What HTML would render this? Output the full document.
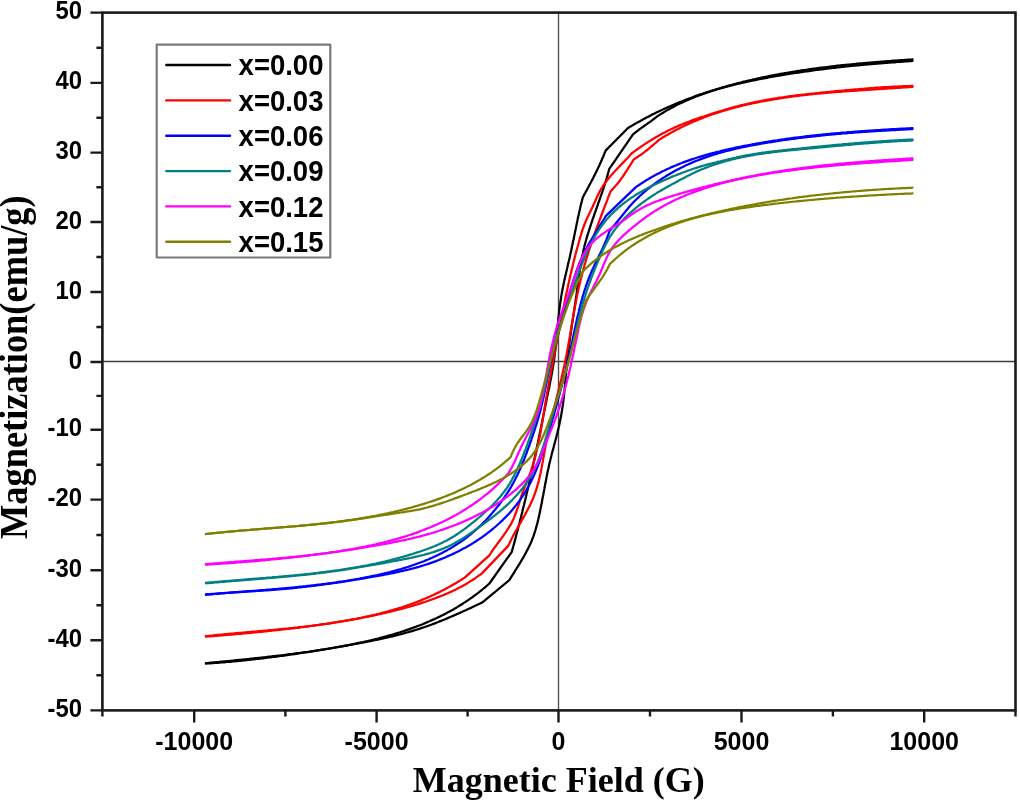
<!DOCTYPE html>
<html><head><meta charset="utf-8"><title>Magnetization vs Magnetic Field</title>
<style>
html,body{margin:0;padding:0;background:#fff;}
body{width:1020px;height:803px;overflow:hidden;}
svg{display:block;}
.t{font-family:"Liberation Sans",Arial,sans-serif;font-weight:bold;font-size:25px;fill:#000;}
.lg{font-family:"Liberation Sans",Arial,sans-serif;font-weight:bold;font-size:27.5px;fill:#000;}
.ti{font-family:"Liberation Serif","Times New Roman",serif;font-weight:bold;font-size:36px;fill:#000;}
.ti2{font-family:"Liberation Serif","Times New Roman",serif;font-weight:bold;font-size:36.4px;fill:#000;}
</style></head><body>
<svg width="1020" height="803" viewBox="0 0 1020 803">
<rect width="1020" height="803" fill="#fff"/>
<line x1="102.4" y1="361.5" x2="1015.5" y2="361.5" stroke="#3c3c3c" stroke-width="1.6"/>
<line x1="558.5" y1="12.6" x2="558.5" y2="710.4" stroke="#505050" stroke-width="1.4"/>
<polyline points="912.5,59.4 911.0,59.5 909.5,59.6 908.0,59.7 906.5,59.8 905.1,59.9 903.6,60.0 902.1,60.1 900.6,60.2 899.1,60.3 897.6,60.4 896.1,60.5 894.6,60.6 893.1,60.7 891.6,60.8 890.1,61.0 888.6,61.1 887.1,61.2 885.6,61.3 884.1,61.4 882.6,61.5 881.1,61.6 879.6,61.8 878.1,61.9 876.6,62.0 875.1,62.1 873.6,62.3 872.1,62.4 870.6,62.5 869.1,62.6 867.6,62.8 866.1,62.9 864.6,63.0 863.1,63.2 861.6,63.3 860.1,63.4 858.6,63.6 857.1,63.7 855.6,63.9 854.1,64.0 852.6,64.2 851.0,64.3 849.5,64.5 848.0,64.6 846.5,64.8 845.0,64.9 843.5,65.1 842.0,65.2 840.5,65.4 839.0,65.6 837.5,65.7 836.0,65.9 834.5,66.1 833.0,66.3 831.5,66.4 830.0,66.6 828.5,66.8 827.0,67.0 825.5,67.2 824.0,67.3 822.5,67.5 821.0,67.7 819.5,67.9 818.0,68.1 816.5,68.3 815.0,68.5 813.4,68.7 811.9,68.9 810.4,69.1 808.9,69.3 807.4,69.6 806.0,69.8 804.5,70.0 803.0,70.2 801.5,70.4 800.0,70.7 798.5,70.9 797.0,71.1 795.5,71.4 794.0,71.6 792.5,71.9 791.0,72.1 789.5,72.4 788.0,72.6 786.5,72.9 785.0,73.1 783.5,73.4 782.0,73.6 780.6,73.9 779.1,74.2 777.6,74.5 776.1,74.7 774.6,75.0 773.1,75.3 771.6,75.6 770.2,75.9 768.7,76.2 767.2,76.5 765.7,76.8 764.2,77.1 762.8,77.4 761.3,77.7 759.8,78.0 758.3,78.3 756.9,78.7 755.4,79.0 753.9,79.3 752.4,79.7 751.0,80.0 749.5,80.3 748.0,80.7 746.6,81.0 745.1,81.4 743.6,81.7 742.2,82.1 740.7,82.5 739.3,82.8 737.8,83.2 736.3,83.6 734.9,84.0 733.4,84.4 732.0,84.8 730.5,85.1 729.1,85.5 727.6,85.9 726.2,86.4 724.7,86.8 723.3,87.2 721.8,87.6 720.4,88.0 718.9,88.5 717.5,88.9 716.1,89.3 714.6,89.8 713.2,90.2 711.8,90.7 710.3,91.1 708.9,91.6 707.5,92.0 706.0,92.5 704.6,93.0 703.2,93.5 701.8,94.0 700.4,94.4 698.9,94.9 697.5,95.4 696.1,95.9 694.7,96.4 693.3,97.0 691.9,97.5 690.5,98.0 689.1,98.5 687.7,99.1 686.3,99.6 684.9,100.1 683.5,100.7 682.1,101.3 680.7,101.8 679.3,102.4 677.9,102.9 676.5,103.5 675.1,104.1 673.7,104.7 672.3,105.3 671.0,105.9 669.6,106.5 668.2,107.1 666.8,107.7 665.5,108.3 664.1,108.9 662.7,109.6 661.4,110.2 660.0,110.8 658.6,111.5 657.3,112.1 655.9,112.8 654.6,113.5 653.2,114.1 651.9,114.8 650.5,115.5 649.2,116.2 647.8,116.9 646.5,117.6 645.2,118.3 643.8,119.0 642.5,119.7 641.2,120.4 639.8,121.2 638.5,121.9 637.2,122.6 635.9,123.4 634.5,124.1 633.2,124.9 631.9,125.7 630.6,126.4 629.3,127.2 628.0,128.0 605.6,150.6 605.0,152.1 604.4,153.5 603.9,155.0 603.3,156.4 602.6,157.9 602.0,159.3 601.4,160.8 600.8,162.2 600.1,163.6 599.5,165.0 598.8,166.5 598.1,167.9 597.5,169.3 596.8,170.7 596.1,172.1 595.4,173.5 594.7,174.9 594.0,176.3 593.3,177.7 592.6,179.1 591.8,180.5 591.1,181.9 590.4,183.3 589.6,184.7 588.9,186.1 588.2,187.5 587.4,188.8 586.7,190.2 585.9,191.6 585.2,193.0 584.4,194.4 583.7,195.7 582.9,197.1 582.5,198.6 582.1,200.0 581.8,201.5 581.4,202.9 581.0,204.4 580.7,205.9 580.3,207.3 580.0,208.8 579.7,210.3 579.3,211.7 579.0,213.2 578.7,214.7 578.3,216.2 578.0,217.6 577.7,219.1 577.4,220.6 577.1,222.1 576.8,223.5 576.5,225.0 576.2,226.5 575.9,228.0 575.6,229.4 575.3,230.9 575.0,232.4 574.7,233.9 574.4,235.4 574.1,236.8 573.8,238.3 573.5,239.8 573.1,241.3 572.8,242.8 572.5,244.2 572.2,245.7 571.9,247.2 571.6,248.7 571.3,250.1 571.0,251.6 570.6,253.1 570.3,254.6 570.0,256.0 569.7,257.5 569.3,259.0 569.0,260.5 568.6,261.9 568.3,263.4 567.9,264.9 567.6,266.4 567.3,267.8 566.9,269.3 566.6,270.8 566.2,272.2 565.9,273.7 565.5,275.2 565.2,276.7 564.9,278.1 564.5,279.6 564.2,281.1 563.9,282.6 563.6,284.0 563.3,285.5 563.0,287.0 562.7,288.5 562.4,289.9 562.1,291.4 561.8,292.9 561.6,294.4 561.3,295.9 561.1,297.4 560.9,298.9 560.6,300.3 560.4,301.8 560.2,303.3 560.0,304.8 559.8,306.3 559.6,307.8 559.4,309.3 559.2,310.8 559.1,312.3 558.9,313.8 558.7,315.3 558.6,316.8 558.4,318.3 558.3,319.8 558.1,321.3 558.0,322.8 557.8,324.3 557.7,325.8 557.5,327.3 557.4,328.8 557.2,330.3 557.1,331.8 557.0,333.3 556.8,334.8 556.7,336.3 556.5,337.8 556.4,339.3 556.2,340.8 556.1,342.3 555.9,343.8 555.8,345.3 555.6,346.8 555.5,348.3 555.3,349.8 555.1,351.3 554.9,352.8 554.8,354.3 554.6,355.8 554.4,357.3 554.2,358.8 554.0,360.3 553.8,361.8 553.5,363.3 553.3,364.8 553.1,366.3 552.8,367.7 552.6,369.2 552.3,370.7 552.1,372.2 551.8,373.7 551.5,375.2 551.3,376.6 551.0,378.1 550.7,379.6 550.4,381.1 550.1,382.6 549.8,384.0 549.5,385.5 549.3,387.0 549.0,388.5 548.6,389.9 548.3,391.4 548.0,392.9 547.7,394.4 547.4,395.9 547.1,397.3 546.8,398.8 546.5,400.3 546.2,401.8 545.9,403.2 545.6,404.7 545.3,406.2 545.0,407.7 544.7,409.2 544.4,410.6 544.1,412.1 543.8,413.6 543.5,415.1 543.2,416.5 542.9,418.0 542.6,419.5 542.3,421.0 542.0,422.5 541.7,423.9 541.4,425.4 541.1,426.9 540.8,428.4 540.5,429.9 540.2,431.3 539.9,432.8 539.6,434.3 539.3,435.8 539.0,437.3 538.7,438.7 538.4,440.2 538.1,441.7 537.8,443.2 537.4,444.7 537.1,446.1 536.8,447.6 536.5,449.1 536.2,450.6 535.9,452.1 535.6,453.5 535.3,455.0 535.0,456.5 534.7,458.0 534.4,459.4 534.0,460.9 533.7,462.4 533.4,463.9 533.1,465.3 532.8,466.8 532.4,468.3 532.1,469.8 531.8,471.2 531.5,472.7 531.1,474.2 530.8,475.7 530.5,477.1 530.2,478.6 529.8,480.1 529.5,481.5 529.1,483.0 528.8,484.5 528.5,486.0 528.1,487.4 527.8,488.9 527.5,490.4 527.1,491.8 526.8,493.3 526.4,494.8 526.1,496.2 525.7,497.7 525.4,499.2 525.0,500.6 524.7,502.1 524.3,503.6 524.0,505.0 523.6,506.5 523.2,508.0 522.9,509.4 522.5,510.9 522.2,512.4 521.8,513.8 521.4,515.3 521.1,516.8 520.7,518.2 520.3,519.7 519.9,521.2 519.6,522.6 519.2,524.1 518.8,525.5 518.4,527.0 518.1,528.5 517.7,529.9 517.3,531.4 516.9,532.8 516.5,534.3 516.1,535.8 515.8,537.2 515.4,538.7 515.0,540.1 514.6,541.6 514.2,543.1 513.8,544.5 513.4,546.0 513.0,547.4 512.6,548.9 512.2,550.3 511.8,551.8 489.4,583.5 488.2,584.5 487.1,585.5 485.9,586.6 484.7,587.6 483.6,588.5 482.4,589.5 481.2,590.5 480.0,591.4 478.8,592.4 477.6,593.3 476.4,594.2 475.1,595.1 473.9,596.0 472.7,596.9 471.4,597.8 470.2,598.7 469.0,599.6 467.7,600.4 466.5,601.3 465.2,602.1 463.9,602.9 462.7,603.7 461.4,604.5 460.1,605.3 458.8,606.1 457.6,606.9 456.3,607.7 455.0,608.4 453.7,609.2 452.4,609.9 451.1,610.7 449.7,611.4 448.4,612.1 447.1,612.8 445.8,613.5 444.4,614.2 443.1,614.9 441.8,615.5 440.4,616.2 439.1,616.9 437.7,617.5 436.4,618.2 435.0,618.8 433.7,619.4 432.3,620.0 430.9,620.6 429.6,621.3 428.2,621.8 426.8,622.4 425.4,623.0 424.0,623.6 422.7,624.2 421.3,624.7 419.9,625.3 418.5,625.8 417.1,626.3 415.7,626.9 414.3,627.4 412.9,627.9 411.4,628.4 410.0,628.9 408.6,629.4 407.2,629.9 405.8,630.4 404.3,630.9 402.9,631.3 401.5,631.8 400.0,632.3 398.6,632.7 397.2,633.2 395.7,633.6 394.3,634.0 392.8,634.5 391.4,634.9 389.9,635.3 388.5,635.7 387.0,636.1 385.6,636.5 384.1,636.9 382.6,637.3 381.2,637.7 379.7,638.1 378.2,638.5 376.8,638.8 375.3,639.2 373.8,639.6 372.4,639.9 370.9,640.3 369.4,640.6 367.9,641.0 366.4,641.3 365.0,641.6 363.5,642.0 362.0,642.3 360.5,642.6 359.0,642.9 357.5,643.2 356.0,643.5 354.6,643.9 353.1,644.2 351.6,644.5 350.1,644.7 348.6,645.0 347.1,645.3 345.6,645.6 344.1,645.9 342.6,646.2 341.1,646.4 339.6,646.7 338.1,647.0 336.6,647.2 335.1,647.5 333.6,647.8 332.1,648.0 330.6,648.3 329.1,648.5 327.6,648.8 326.1,649.0 324.6,649.3 323.1,649.5 321.6,649.7 320.1,650.0 318.6,650.2 317.1,650.4 315.6,650.7 314.1,650.9 312.6,651.1 311.1,651.3 309.6,651.6 308.1,651.8 306.6,652.0 305.1,652.2 303.6,652.4 302.1,652.6 300.5,652.8 299.0,653.0 297.5,653.2 296.0,653.4 294.5,653.6 293.0,653.8 291.5,654.0 290.0,654.2 288.5,654.4 287.0,654.6 285.5,654.8 284.0,655.0 282.5,655.2 281.0,655.3 279.5,655.5 278.0,655.7 276.5,655.9 275.0,656.1 273.5,656.2 272.0,656.4 270.4,656.6 268.9,656.7 267.4,656.9 265.9,657.1 264.4,657.3 262.9,657.4 261.4,657.6 259.9,657.8 258.4,657.9 256.9,658.1 255.4,658.2 253.9,658.4 252.4,658.6 250.9,658.7 249.4,658.9 247.9,659.0 246.4,659.2 244.9,659.3 243.4,659.5 241.9,659.6 240.4,659.8 238.9,659.9 237.4,660.1 235.9,660.2 234.4,660.4 232.9,660.5 231.4,660.7 229.9,660.8 228.4,661.0 226.9,661.1 225.4,661.3 223.9,661.4 222.4,661.6 220.9,661.7 219.4,661.9 217.9,662.0 216.4,662.1 214.9,662.3 213.4,662.4 211.9,662.6 210.4,662.7 208.9,662.9 207.4,663.0 205.9,663.2" fill="none" stroke="#000000" stroke-width="2.25" stroke-linejoin="round" stroke-linecap="round"/>
<polyline points="205.9,663.6 207.4,663.5 208.9,663.4 210.4,663.3 211.9,663.2 213.4,663.1 214.9,663.0 216.5,662.9 218.0,662.8 219.5,662.7 221.0,662.5 222.5,662.4 224.0,662.3 225.5,662.2 227.0,662.0 228.5,661.9 230.0,661.8 231.5,661.6 233.0,661.5 234.5,661.3 236.0,661.2 237.5,661.1 239.0,660.9 240.5,660.8 242.0,660.6 243.5,660.4 245.0,660.3 246.5,660.1 248.0,660.0 249.5,659.8 251.0,659.7 252.5,659.5 254.0,659.3 255.5,659.1 257.0,659.0 258.5,658.8 260.0,658.6 261.5,658.4 263.0,658.3 264.5,658.1 266.0,657.9 267.5,657.7 269.0,657.5 270.5,657.3 272.0,657.2 273.5,657.0 274.9,656.8 276.4,656.6 277.9,656.4 279.4,656.2 280.9,656.0 282.4,655.8 283.9,655.6 285.4,655.4 286.9,655.1 288.4,654.9 289.9,654.7 291.4,654.5 292.9,654.3 294.4,654.1 295.8,653.9 297.3,653.6 298.8,653.4 300.3,653.2 301.8,653.0 303.3,652.7 304.8,652.5 306.3,652.3 307.8,652.1 309.3,651.8 310.7,651.6 312.2,651.4 313.7,651.1 315.2,650.9 316.7,650.6 318.2,650.4 319.7,650.2 321.2,649.9 322.7,649.7 324.1,649.4 325.6,649.2 327.1,648.9 328.6,648.7 330.1,648.4 331.6,648.2 333.1,647.9 334.6,647.7 336.0,647.4 337.5,647.1 339.0,646.9 340.5,646.6 342.0,646.4 343.5,646.1 345.0,645.8 346.5,645.6 347.9,645.3 349.4,645.0 350.9,644.8 352.4,644.5 353.9,644.2 355.4,643.9 356.9,643.7 358.3,643.4 359.8,643.1 361.3,642.8 362.8,642.5 364.3,642.3 365.8,642.0 367.3,641.7 368.7,641.4 370.2,641.1 371.7,640.8 373.2,640.5 374.7,640.2 376.1,639.9 377.6,639.6 379.1,639.3 380.6,639.0 382.1,638.6 383.5,638.3 385.0,638.0 386.5,637.7 388.0,637.3 389.4,637.0 390.9,636.6 392.4,636.3 393.8,635.9 395.3,635.6 396.8,635.2 398.2,634.9 399.7,634.5 401.1,634.1 402.6,633.7 404.0,633.3 405.5,632.9 406.9,632.5 408.4,632.1 409.8,631.7 411.3,631.3 412.7,630.9 414.2,630.4 415.6,630.0 417.0,629.5 418.5,629.1 419.9,628.6 421.3,628.1 422.7,627.7 424.2,627.2 425.6,626.7 427.0,626.2 428.4,625.7 429.8,625.2 431.2,624.7 432.7,624.1 434.1,623.6 435.5,623.1 436.9,622.5 438.3,622.0 439.7,621.4 441.1,620.9 442.5,620.3 443.9,619.7 445.2,619.2 446.6,618.6 448.0,618.0 449.4,617.4 450.8,616.8 452.2,616.2 453.6,615.6 455.0,615.0 456.3,614.4 457.7,613.8 459.1,613.2 460.5,612.6 461.8,612.0 463.2,611.3 464.6,610.7 466.0,610.1 467.3,609.5 468.7,608.8 470.1,608.2 471.5,607.6 472.8,606.9 474.2,606.3 475.6,605.6 476.9,605.0 478.3,604.3 479.7,603.7 481.0,603.0 482.4,602.4 509.4,580.0 510.2,578.7 511.0,577.4 511.8,576.1 512.6,574.9 513.4,573.6 514.2,572.3 515.0,571.0 515.8,569.7 516.6,568.5 517.4,567.2 518.2,565.9 519.0,564.6 519.8,563.3 520.6,562.0 521.4,560.7 522.1,559.4 522.9,558.1 523.7,556.8 524.4,555.5 525.1,554.2 525.8,552.9 526.5,551.5 527.2,550.2 527.9,548.9 528.6,547.5 529.2,546.2 529.9,544.8 530.5,543.5 531.1,542.1 531.7,540.7 532.2,539.3 532.7,538.0 533.3,536.6 533.8,535.2 534.3,533.7 534.7,532.3 535.2,530.9 535.6,529.5 536.0,528.0 536.4,526.6 536.8,525.2 537.2,523.7 537.6,522.2 537.9,520.8 538.3,519.3 538.6,517.9 539.0,516.4 539.3,514.9 539.6,513.5 539.9,512.0 540.2,510.5 540.5,509.0 540.8,507.5 541.1,506.1 541.4,504.6 541.7,503.1 542.0,501.6 542.2,500.1 542.5,498.6 542.8,497.2 543.1,495.7 543.4,494.2 543.6,492.7 543.9,491.2 544.2,489.7 544.5,488.2 544.7,486.8 545.0,485.3 545.3,483.8 545.6,482.3 545.9,480.8 546.2,479.3 546.4,477.8 546.7,476.4 547.0,474.9 547.3,473.4 547.6,471.9 547.9,470.4 548.3,469.0 548.6,467.5 548.9,466.0 549.2,464.5 549.6,463.1 549.9,461.6 550.3,460.1 550.6,458.7 551.0,457.2 551.4,455.8 551.7,454.3 552.1,452.8 552.5,451.4 552.9,449.9 553.3,448.5 553.7,447.0 554.0,445.6 554.4,444.1 554.8,442.7 555.2,441.2 555.6,439.8 556.0,438.3 556.4,436.9 556.7,435.4 557.1,434.0 557.5,432.5 557.8,431.0 558.2,429.6 558.5,428.1 558.9,426.7 559.2,425.2 559.5,423.7 559.8,422.3 560.1,420.8 560.4,419.3 560.7,417.8 561.0,416.4 561.2,414.9 561.5,413.4 561.7,411.9 562.0,410.4 562.2,409.0 562.4,407.5 562.7,406.0 562.9,404.5 563.1,403.0 563.3,401.5 563.4,400.0 563.6,398.5 563.8,397.0 564.0,395.5 564.1,394.0 564.3,392.5 564.4,391.0 564.6,389.5 564.7,388.0 564.9,386.5 565.0,385.0 565.2,383.5 565.3,382.0 565.4,380.5 565.6,379.0 565.7,377.5 565.8,376.0 566.0,374.5 566.1,373.0 566.2,371.5 566.4,370.0 566.5,368.5 566.6,367.0 566.8,365.5 566.9,364.0 567.1,362.5 567.2,361.0 567.4,359.5 567.6,358.0 567.7,356.5 567.9,355.0 568.1,353.5 568.3,352.0 568.4,350.5 568.6,349.0 568.8,347.5 569.0,346.0 569.2,344.5 569.4,343.0 569.6,341.5 569.8,340.0 570.0,338.5 570.2,337.0 570.4,335.5 570.6,334.1 570.8,332.6 571.1,331.1 571.3,329.6 571.5,328.1 571.7,326.6 571.9,325.1 572.1,323.6 572.4,322.1 572.6,320.6 572.8,319.1 573.0,317.7 573.3,316.2 573.5,314.7 573.7,313.2 573.9,311.7 574.2,310.2 574.4,308.7 574.6,307.2 574.8,305.7 575.1,304.2 575.3,302.8 575.5,301.3 575.7,299.8 575.9,298.3 576.2,296.8 576.4,295.3 576.6,293.8 576.8,292.3 577.0,290.8 577.2,289.3 577.4,287.8 577.6,286.3 577.8,284.8 578.0,283.3 578.2,281.9 578.4,280.4 578.6,278.9 578.8,277.4 579.1,275.9 579.3,274.4 579.5,272.9 579.7,271.4 579.9,269.9 580.1,268.4 580.4,266.9 580.6,265.4 580.8,264.0 581.1,262.5 581.3,261.0 581.6,259.5 581.9,258.0 582.2,256.6 582.5,255.1 582.8,253.6 583.1,252.1 583.4,250.7 583.7,249.2 584.1,247.8 584.4,246.3 584.8,244.8 585.2,243.4 585.6,241.9 586.0,240.5 586.4,239.0 586.8,237.6 587.2,236.1 587.7,234.7 588.1,233.3 588.6,231.8 589.0,230.4 589.5,229.0 589.9,227.5 590.4,226.1 590.9,224.7 591.4,223.2 591.8,221.8 592.3,220.4 592.8,218.9 593.3,217.5 593.8,216.1 594.3,214.6 594.8,213.2 595.3,211.8 595.8,210.4 596.3,208.9 596.8,207.5 597.3,206.1 597.8,204.7 598.3,203.2 598.8,201.8 599.3,200.4 599.8,199.0 600.3,197.5 600.8,196.1 601.3,194.7 601.8,193.3 602.3,191.8 602.8,190.4 603.3,189.0 603.7,187.5 604.2,186.1 604.7,184.7 605.1,183.2 605.6,181.8 606.0,180.4 606.5,178.9 606.9,177.5 607.3,176.0 607.7,174.6 608.1,173.2 608.5,171.7 608.9,170.3 609.3,168.8 633.0,134.3 634.3,133.3 635.5,132.3 636.8,131.3 638.1,130.3 639.4,129.3 640.8,128.4 642.1,127.4 643.4,126.5 644.7,125.5 646.1,124.6 647.4,123.7 648.8,122.7 650.1,121.8 651.4,120.8 652.7,119.9 654.0,118.9 655.3,117.9 656.6,116.9 657.9,115.9 659.2,115.1 660.5,114.3 661.8,113.4 663.1,112.7 664.4,111.9 665.7,111.1 667.0,110.3 668.3,109.6 669.6,108.9 671.0,108.1 672.3,107.4 673.6,106.7 675.0,106.0 676.3,105.3 677.7,104.6 679.0,104.0 680.4,103.3 681.7,102.7 683.1,102.1 684.5,101.4 685.8,100.8 687.2,100.2 688.6,99.6 690.0,99.0 691.4,98.4 692.7,97.9 694.1,97.3 695.5,96.8 696.9,96.2 698.3,95.7 699.7,95.2 701.2,94.6 702.6,94.1 704.0,93.6 705.4,93.1 706.8,92.6 708.2,92.2 709.7,91.7 711.1,91.2 712.5,90.8 714.0,90.3 715.4,89.9 716.8,89.4 718.3,89.0 719.7,88.6 721.2,88.2 722.6,87.8 724.1,87.4 725.5,87.0 727.0,86.6 728.4,86.2 729.9,85.8 731.4,85.4 732.8,85.1 734.3,84.7 735.8,84.3 737.2,84.0 738.7,83.6 740.2,83.3 741.6,82.9 743.1,82.6 744.6,82.3 746.1,82.0 747.6,81.6 749.0,81.3 750.5,81.0 752.0,80.7 753.5,80.4 755.0,80.1 756.4,79.8 757.9,79.5 759.4,79.2 760.9,78.9 762.4,78.6 763.9,78.3 765.4,78.1 766.9,77.8 768.4,77.5 769.8,77.2 771.3,77.0 772.8,76.7 774.3,76.4 775.8,76.2 777.3,75.9 778.8,75.7 780.3,75.4 781.8,75.2 783.3,74.9 784.8,74.7 786.3,74.4 787.8,74.2 789.3,73.9 790.8,73.7 792.3,73.5 793.8,73.2 795.3,73.0 796.8,72.8 798.3,72.6 799.8,72.3 801.3,72.1 802.8,71.9 804.3,71.7 805.8,71.5 807.3,71.3 808.8,71.1 810.3,70.8 811.8,70.6 813.3,70.4 814.8,70.2 816.3,70.0 817.8,69.8 819.3,69.7 820.8,69.5 822.3,69.3 823.8,69.1 825.3,68.9 826.8,68.7 828.3,68.5 829.8,68.4 831.3,68.2 832.8,68.0 834.3,67.8 835.8,67.7 837.3,67.5 838.8,67.3 840.3,67.2 841.8,67.0 843.3,66.8 844.8,66.7 846.3,66.5 847.8,66.4 849.3,66.2 850.9,66.0 852.4,65.9 853.9,65.7 855.4,65.6 856.9,65.4 858.4,65.3 859.9,65.2 861.4,65.0 862.9,64.9 864.4,64.7 865.9,64.6 867.4,64.5 868.9,64.3 870.4,64.2 871.9,64.1 873.4,63.9 874.9,63.8 876.4,63.7 877.9,63.6 879.4,63.4 881.0,63.3 882.5,63.2 884.0,63.1 885.5,62.9 887.0,62.8 888.5,62.7 890.0,62.6 891.5,62.5 893.0,62.4 894.5,62.3 896.0,62.1 897.5,62.0 899.0,61.9 900.5,61.8 902.0,61.7 903.5,61.6 905.0,61.5 906.5,61.4 908.0,61.3 909.5,61.2 911.0,61.1 912.5,61.0" fill="none" stroke="#000000" stroke-width="2.25" stroke-linejoin="round" stroke-linecap="round"/>
<polyline points="912.5,85.9 911.0,85.9 909.5,86.0 908.0,86.0 906.4,86.1 904.9,86.1 903.4,86.2 901.9,86.3 900.4,86.3 898.9,86.4 897.4,86.5 895.9,86.5 894.4,86.6 892.8,86.7 891.3,86.8 889.8,86.9 888.3,87.0 886.8,87.0 885.3,87.1 883.8,87.2 882.3,87.3 880.8,87.4 879.3,87.5 877.8,87.6 876.2,87.7 874.7,87.8 873.2,88.0 871.7,88.1 870.2,88.2 868.7,88.3 867.2,88.4 865.7,88.5 864.2,88.7 862.7,88.8 861.2,88.9 859.7,89.0 858.1,89.2 856.6,89.3 855.1,89.4 853.6,89.6 852.1,89.7 850.6,89.8 849.1,90.0 847.6,90.1 846.1,90.2 844.6,90.4 843.1,90.5 841.6,90.7 840.1,90.8 838.6,90.9 837.0,91.1 835.5,91.2 834.0,91.4 832.5,91.5 831.0,91.7 829.5,91.8 828.0,92.0 826.5,92.1 825.0,92.3 823.5,92.4 822.0,92.6 820.5,92.7 819.0,92.9 817.5,93.0 816.0,93.2 814.5,93.4 813.0,93.5 811.5,93.7 809.9,93.8 808.4,94.0 806.9,94.2 805.4,94.4 803.9,94.5 802.4,94.7 800.9,94.9 799.4,95.1 797.9,95.2 796.4,95.4 794.9,95.6 793.4,95.8 791.9,96.0 790.4,96.2 788.9,96.4 787.4,96.6 785.9,96.8 784.4,97.0 783.0,97.3 781.5,97.5 780.0,97.7 778.5,97.9 777.0,98.2 775.5,98.4 774.0,98.6 772.5,98.9 771.0,99.1 769.5,99.4 768.0,99.6 766.6,99.9 765.1,100.2 763.6,100.5 762.1,100.7 760.6,101.0 759.1,101.3 757.7,101.6 756.2,101.9 754.7,102.2 753.2,102.5 751.7,102.8 750.3,103.2 748.8,103.5 747.3,103.8 745.8,104.2 744.4,104.5 742.9,104.9 741.4,105.2 740.0,105.6 738.5,106.0 737.0,106.3 735.6,106.7 734.1,107.1 732.6,107.5 731.2,107.9 729.7,108.3 728.3,108.7 726.8,109.2 725.4,109.6 723.9,110.0 722.4,110.5 721.0,110.9 719.5,111.3 718.1,111.8 716.6,112.2 715.2,112.7 713.8,113.1 712.3,113.6 710.9,114.1 709.4,114.5 708.0,115.0 706.5,115.5 705.1,116.0 703.7,116.5 702.2,116.9 700.8,117.4 699.4,117.9 698.0,118.4 696.5,118.9 695.1,119.4 693.7,119.9 692.3,120.4 690.8,120.9 689.4,121.5 688.0,122.0 686.6,122.5 685.2,123.1 683.8,123.6 682.4,124.2 681.0,124.7 679.6,125.3 678.2,125.9 676.9,126.5 675.5,127.1 674.1,127.8 672.8,128.4 671.4,129.0 670.0,129.7 668.7,130.3 667.3,131.0 666.0,131.7 664.7,132.4 663.3,133.1 662.0,133.8 660.7,134.5 659.4,135.3 658.1,136.0 656.8,136.8 655.5,137.5 654.2,138.3 652.9,139.1 651.6,139.8 650.3,140.6 649.0,141.4 647.7,142.2 646.5,143.1 645.2,143.9 643.9,144.7 642.7,145.6 641.4,146.4 640.2,147.3 638.9,148.1 637.7,149.0 636.4,149.9 635.2,150.8 634.0,151.7 632.7,152.6 631.5,153.5 630.5,154.6 629.5,155.8 628.5,156.9 627.5,158.0 626.4,159.1 625.4,160.2 624.4,161.3 623.3,162.4 622.3,163.4 621.2,164.5 620.2,165.6 619.1,166.7 618.1,167.8 617.0,168.9 616.0,170.0 615.0,171.1 614.0,172.2 613.0,173.3 612.0,174.4 611.0,175.5 610.0,176.7 609.0,177.8 608.1,179.0 607.2,180.1 606.3,181.3 605.4,182.5 604.5,183.7 603.7,185.0 602.8,186.2 602.1,187.5 601.3,188.7 600.5,190.0 599.8,191.3 599.1,192.7 598.5,194.0 597.8,195.4 597.1,196.7 596.5,198.1 595.9,199.5 595.3,200.9 594.6,202.3 594.0,203.6 593.4,205.0 592.8,206.4 592.1,207.8 591.5,209.1 590.8,210.5 590.1,211.9 589.5,213.2 588.8,214.6 588.2,215.9 587.5,217.3 586.9,218.7 586.3,220.0 585.7,221.4 585.1,222.8 584.5,224.2 584.0,225.6 583.5,227.0 583.0,228.4 582.5,229.8 582.1,231.2 581.6,232.7 581.2,234.1 580.8,235.5 580.3,237.0 579.9,238.4 579.5,239.9 579.1,241.3 578.7,242.8 578.3,244.2 577.9,245.6 577.5,247.1 577.1,248.5 576.7,250.0 576.3,251.4 575.9,252.9 575.5,254.3 575.2,255.8 574.8,257.3 574.4,258.7 574.0,260.2 573.7,261.6 573.3,263.1 573.0,264.5 572.6,266.0 572.3,267.5 571.9,268.9 571.6,270.4 571.2,271.9 570.9,273.3 570.5,274.8 570.2,276.3 569.9,277.7 569.5,279.2 569.2,280.7 568.9,282.1 568.6,283.6 568.2,285.1 567.9,286.5 567.6,288.0 567.3,289.5 567.0,291.0 566.6,292.4 566.3,293.9 566.0,295.4 565.7,296.9 565.4,298.3 565.1,299.8 564.8,301.3 564.5,302.8 564.2,304.2 563.9,305.7 563.6,307.2 563.3,308.7 563.0,310.1 562.7,311.6 562.4,313.1 562.1,314.6 561.8,316.1 561.6,317.5 561.3,319.0 561.0,320.5 560.7,322.0 560.4,323.4 560.1,324.9 559.8,326.4 559.5,327.9 559.2,329.4 559.0,330.8 558.7,332.3 558.4,333.8 558.1,335.3 557.8,336.7 557.5,338.2 557.2,339.7 556.9,341.2 556.7,342.7 556.4,344.1 556.1,345.6 555.8,347.1 555.5,348.6 555.2,350.0 554.9,351.5 554.6,353.0 554.3,354.5 554.1,355.9 553.8,357.4 553.5,358.9 553.2,360.4 552.9,361.8 552.6,363.3 552.3,364.8 552.1,366.3 551.8,367.7 551.5,369.2 551.2,370.7 550.9,372.2 550.7,373.6 550.4,375.1 550.1,376.6 549.8,378.1 549.5,379.6 549.3,381.0 549.0,382.5 548.7,384.0 548.5,385.5 548.2,387.0 547.9,388.4 547.7,389.9 547.4,391.4 547.1,392.9 546.9,394.4 546.6,395.8 546.4,397.3 546.1,398.8 545.9,400.3 545.6,401.8 545.4,403.3 545.1,404.8 544.9,406.2 544.6,407.7 544.4,409.2 544.2,410.7 543.9,412.2 543.7,413.7 543.4,415.2 543.2,416.7 542.9,418.2 542.7,419.6 542.4,421.1 542.2,422.6 541.9,424.1 541.7,425.6 541.4,427.1 541.2,428.6 540.9,430.0 540.6,431.5 540.4,433.0 540.1,434.5 539.8,436.0 539.5,437.4 539.2,438.9 538.9,440.4 538.6,441.9 538.3,443.3 538.0,444.8 537.7,446.3 537.4,447.7 537.0,449.2 536.7,450.7 536.3,452.1 536.0,453.6 535.6,455.0 535.3,456.5 534.9,457.9 534.5,459.4 534.1,460.8 533.7,462.3 533.2,463.7 532.8,465.1 532.4,466.6 531.9,468.0 531.4,469.4 531.0,470.8 530.5,472.3 530.0,473.7 529.4,475.1 528.9,476.5 528.4,477.9 527.8,479.3 527.3,480.7 526.7,482.1 526.1,483.5 525.6,484.9 525.0,486.3 524.4,487.7 523.9,489.1 523.4,490.5 522.8,491.9 522.3,493.4 521.8,494.8 521.4,496.2 520.9,497.7 520.4,499.1 520.0,500.6 519.5,502.0 519.1,503.4 518.6,504.9 518.2,506.3 517.7,507.8 517.2,509.2 516.7,510.6 516.2,512.0 515.7,513.4 515.2,514.8 514.6,516.2 514.1,517.6 513.5,519.0 512.8,520.3 512.2,521.6 511.5,523.0 510.8,524.3 510.0,525.6 509.2,526.9 508.5,528.1 507.6,529.4 506.8,530.7 506.0,531.9 505.1,533.1 504.2,534.4 503.4,535.6 502.5,536.8 501.6,538.1 500.7,539.3 499.8,540.5 498.9,541.7 498.0,542.9 497.1,544.1 496.2,545.4 495.3,546.6 494.4,547.8 493.5,549.0 492.7,550.3 491.8,551.5 491.0,552.8 490.2,554.0 489.4,555.3 464.7,577.6 463.4,578.4 462.1,579.3 460.8,580.1 459.5,580.9 458.2,581.7 456.9,582.5 455.6,583.3 454.3,584.1 453.0,584.8 451.6,585.6 450.3,586.3 449.0,587.1 447.6,587.8 446.3,588.5 445.0,589.2 443.6,589.9 442.3,590.6 440.9,591.3 439.6,592.0 438.2,592.6 436.9,593.3 435.5,593.9 434.1,594.6 432.8,595.2 431.4,595.8 430.0,596.5 428.6,597.1 427.2,597.7 425.9,598.3 424.5,598.8 423.1,599.4 421.7,600.0 420.3,600.6 418.9,601.1 417.5,601.7 416.1,602.2 414.7,602.7 413.3,603.3 411.9,603.8 410.5,604.3 409.0,604.8 407.6,605.3 406.2,605.8 404.8,606.2 403.3,606.7 401.9,607.2 400.5,607.7 399.1,608.1 397.6,608.6 396.2,609.0 394.7,609.4 393.3,609.9 391.9,610.3 390.4,610.7 389.0,611.1 387.5,611.5 386.1,611.9 384.6,612.3 383.1,612.7 381.7,613.1 380.2,613.5 378.8,613.8 377.3,614.2 375.8,614.6 374.4,614.9 372.9,615.3 371.4,615.6 369.9,615.9 368.5,616.3 367.0,616.6 365.5,616.9 364.0,617.2 362.6,617.5 361.1,617.9 359.6,618.2 358.1,618.5 356.6,618.8 355.1,619.0 353.6,619.3 352.2,619.6 350.7,619.9 349.2,620.2 347.7,620.4 346.2,620.7 344.7,620.9 343.2,621.2 341.7,621.5 340.2,621.7 338.7,621.9 337.2,622.2 335.7,622.4 334.2,622.7 332.7,622.9 331.2,623.1 329.7,623.3 328.2,623.6 326.7,623.8 325.2,624.0 323.7,624.2 322.1,624.4 320.6,624.6 319.1,624.8 317.6,625.0 316.1,625.2 314.6,625.4 313.1,625.6 311.6,625.8 310.1,626.0 308.5,626.1 307.0,626.3 305.5,626.5 304.0,626.7 302.5,626.9 301.0,627.0 299.4,627.2 297.9,627.4 296.4,627.5 294.9,627.7 293.4,627.9 291.9,628.0 290.3,628.2 288.8,628.3 287.3,628.5 285.8,628.6 284.3,628.8 282.8,628.9 281.2,629.1 279.7,629.2 278.2,629.4 276.7,629.5 275.2,629.7 273.7,629.8 272.1,630.0 270.6,630.1 269.1,630.2 267.6,630.4 266.1,630.5 264.6,630.6 263.0,630.8 261.5,630.9 260.0,631.1 258.5,631.2 257.0,631.3 255.5,631.5 254.0,631.6 252.4,631.7 250.9,631.9 249.4,632.0 247.9,632.1 246.4,632.3 244.9,632.4 243.4,632.5 241.9,632.7 240.4,632.8 238.8,632.9 237.3,633.1 235.8,633.2 234.3,633.4 232.8,633.5 231.3,633.6 229.8,633.8 228.3,633.9 226.8,634.1 225.3,634.2 223.8,634.3 222.3,634.5 220.8,634.6 219.3,634.8 217.8,634.9 216.3,635.1 214.8,635.2 213.3,635.4 211.9,635.5 210.4,635.7 208.9,635.8 207.4,636.0 205.9,636.2" fill="none" stroke="#ff0000" stroke-width="2.25" stroke-linejoin="round" stroke-linecap="round"/>
<polyline points="205.9,636.6 207.4,636.5 208.9,636.4 210.4,636.3 211.9,636.2 213.4,636.1 215.0,635.9 216.5,635.8 218.0,635.7 219.5,635.6 221.0,635.4 222.5,635.3 224.0,635.2 225.5,635.1 227.0,634.9 228.5,634.8 230.0,634.7 231.5,634.6 233.0,634.4 234.5,634.3 236.0,634.2 237.6,634.0 239.1,633.9 240.6,633.8 242.1,633.6 243.6,633.5 245.1,633.4 246.6,633.2 248.1,633.1 249.6,633.0 251.1,632.8 252.6,632.7 254.1,632.5 255.6,632.4 257.1,632.2 258.6,632.1 260.1,631.9 261.6,631.8 263.1,631.6 264.6,631.5 266.1,631.3 267.6,631.2 269.1,631.0 270.6,630.9 272.1,630.7 273.6,630.5 275.1,630.4 276.6,630.2 278.1,630.1 279.6,629.9 281.1,629.7 282.6,629.5 284.1,629.4 285.6,629.2 287.1,629.0 288.6,628.9 290.1,628.7 291.6,628.5 293.1,628.3 294.6,628.1 296.1,628.0 297.6,627.8 299.1,627.6 300.6,627.4 302.1,627.2 303.6,627.0 305.1,626.8 306.6,626.6 308.1,626.4 309.6,626.2 311.1,626.0 312.5,625.8 314.0,625.6 315.5,625.4 317.0,625.2 318.5,625.0 320.0,624.7 321.5,624.5 323.0,624.3 324.5,624.1 326.0,623.9 327.5,623.6 329.0,623.4 330.5,623.2 332.0,622.9 333.5,622.7 334.9,622.5 336.4,622.2 337.9,622.0 339.4,621.7 340.9,621.5 342.4,621.3 343.9,621.0 345.4,620.7 346.9,620.5 348.4,620.2 349.9,620.0 351.3,619.7 352.8,619.4 354.3,619.2 355.8,618.9 357.3,618.6 358.8,618.3 360.3,618.1 361.8,617.8 363.2,617.5 364.7,617.2 366.2,616.9 367.7,616.6 369.2,616.3 370.7,616.0 372.2,615.7 373.6,615.4 375.1,615.1 376.6,614.8 378.1,614.5 379.6,614.1 381.0,613.8 382.5,613.5 384.0,613.2 385.5,612.8 386.9,612.5 388.4,612.1 389.9,611.8 391.4,611.4 392.8,611.1 394.3,610.7 395.8,610.3 397.2,610.0 398.7,609.6 400.2,609.2 401.6,608.8 403.1,608.4 404.5,608.0 406.0,607.6 407.5,607.2 408.9,606.8 410.4,606.4 411.8,606.0 413.3,605.6 414.7,605.1 416.1,604.7 417.6,604.3 419.0,603.8 420.5,603.4 421.9,602.9 423.3,602.4 424.8,602.0 426.2,601.5 427.6,601.0 429.0,600.5 430.5,600.0 431.9,599.5 433.3,599.0 434.7,598.5 436.1,598.0 437.5,597.4 438.9,596.9 440.3,596.3 441.7,595.8 443.1,595.2 444.5,594.6 445.9,594.0 447.3,593.5 448.6,592.8 450.0,592.2 451.4,591.6 452.7,591.0 454.1,590.3 455.4,589.7 456.8,589.0 458.1,588.3 459.4,587.6 460.8,586.9 462.1,586.2 463.4,585.5 464.7,584.7 466.0,584.0 467.3,583.2 468.6,582.4 469.9,581.6 471.2,580.8 472.5,580.0 473.7,579.2 475.0,578.3 476.2,577.4 477.5,576.6 478.7,575.7 480.0,574.8 481.2,573.8 482.4,572.9 508.2,545.9 508.8,544.5 509.5,543.2 510.1,541.8 510.8,540.5 511.4,539.1 512.1,537.8 512.8,536.4 513.5,535.1 514.3,533.8 515.0,532.4 515.7,531.1 516.5,529.8 517.2,528.5 517.9,527.1 518.7,525.8 519.5,524.5 520.2,523.2 521.0,521.9 521.7,520.5 522.5,519.2 523.2,517.9 523.9,516.6 524.7,515.2 525.4,513.9 526.1,512.6 526.8,511.3 527.6,509.9 528.2,508.6 528.9,507.2 529.6,505.9 530.3,504.5 530.9,503.2 531.5,501.8 532.1,500.5 532.7,499.1 533.3,497.7 533.8,496.3 534.4,494.9 534.9,493.5 535.4,492.1 535.9,490.7 536.3,489.3 536.8,487.9 537.2,486.4 537.6,485.0 538.0,483.5 538.4,482.1 538.8,480.7 539.1,479.2 539.5,477.7 539.8,476.3 540.1,474.8 540.5,473.3 540.8,471.9 541.1,470.4 541.4,468.9 541.7,467.4 541.9,466.0 542.2,464.5 542.5,463.0 542.8,461.5 543.0,460.0 543.3,458.5 543.6,457.0 543.8,455.5 544.1,454.1 544.4,452.6 544.6,451.1 544.9,449.6 545.2,448.1 545.4,446.6 545.7,445.1 546.0,443.6 546.3,442.1 546.6,440.7 546.9,439.2 547.2,437.7 547.5,436.2 547.8,434.7 548.1,433.3 548.5,431.8 548.8,430.3 549.1,428.8 549.5,427.4 549.8,425.9 550.1,424.4 550.5,423.0 550.8,421.5 551.2,420.0 551.5,418.5 551.9,417.1 552.2,415.6 552.6,414.1 553.0,412.7 553.3,411.2 553.7,409.8 554.0,408.3 554.4,406.8 554.8,405.4 555.1,403.9 555.5,402.4 555.9,401.0 556.2,399.5 556.6,398.0 557.0,396.6 557.3,395.1 557.7,393.7 558.1,392.2 558.4,390.7 558.8,389.3 559.1,387.8 559.5,386.3 559.9,384.9 560.2,383.4 560.6,381.9 560.9,380.5 561.3,379.0 561.6,377.5 562.0,376.1 562.3,374.6 562.6,373.1 563.0,371.7 563.3,370.2 563.6,368.7 563.9,367.2 564.3,365.8 564.6,364.3 564.9,362.8 565.2,361.3 565.5,359.9 565.8,358.4 566.1,356.9 566.4,355.4 566.7,353.9 566.9,352.5 567.2,351.0 567.5,349.5 567.8,348.0 568.0,346.5 568.3,345.0 568.6,343.6 568.8,342.1 569.1,340.6 569.4,339.1 569.6,337.6 569.9,336.1 570.1,334.6 570.4,333.1 570.6,331.7 570.9,330.2 571.1,328.7 571.4,327.2 571.6,325.7 571.9,324.2 572.2,322.7 572.4,321.2 572.7,319.7 572.9,318.2 573.2,316.8 573.4,315.3 573.7,313.8 574.0,312.3 574.2,310.8 574.5,309.3 574.8,307.8 575.0,306.4 575.3,304.9 575.6,303.4 575.9,301.9 576.2,300.4 576.4,298.9 576.7,297.5 577.0,296.0 577.3,294.5 577.6,293.0 578.0,291.6 578.3,290.1 578.6,288.6 578.9,287.1 579.3,285.7 579.6,284.2 579.9,282.7 580.3,281.3 580.6,279.8 581.0,278.3 581.4,276.9 581.8,275.4 582.1,274.0 582.5,272.5 582.9,271.0 583.3,269.6 583.7,268.1 584.1,266.7 584.5,265.2 584.9,263.8 585.4,262.3 585.8,260.9 586.2,259.4 586.7,258.0 587.1,256.6 587.6,255.1 588.0,253.7 588.5,252.2 588.9,250.8 589.4,249.4 589.9,247.9 590.3,246.5 590.8,245.1 591.3,243.6 591.8,242.2 592.2,240.8 592.7,239.3 593.2,237.9 593.7,236.5 594.2,235.1 594.7,233.6 595.2,232.2 595.7,230.8 596.2,229.4 596.7,227.9 597.3,226.5 597.8,225.1 598.3,223.7 598.8,222.3 599.3,220.8 599.9,219.4 600.4,218.0 600.9,216.6 601.4,215.2 602.0,213.8 602.5,212.3 603.0,210.9 603.6,209.5 604.1,208.1 604.7,206.7 605.2,205.3 605.7,203.9 606.3,202.5 606.8,201.1 607.4,199.6 607.9,198.2 608.4,196.8 609.0,195.4 609.5,194.0 610.1,192.6 610.6,191.2 611.7,190.1 612.8,189.0 613.9,187.8 615.0,186.6 616.0,185.4 617.0,184.2 618.0,183.0 619.0,181.7 619.9,180.5 620.9,179.2 621.8,177.9 622.7,176.7 623.6,175.3 624.5,174.0 625.3,172.7 626.2,171.4 627.1,170.1 627.9,168.7 628.7,167.4 629.6,166.1 630.4,164.7 631.3,163.4 632.1,162.1 633.0,160.7 633.8,159.4 635.5,158.3 637.1,157.2 638.7,156.1 640.4,155.0 642.1,153.8 643.8,152.6 645.6,151.2 647.1,150.0 648.6,148.8 650.1,147.5 651.7,146.2 653.3,144.8 654.9,143.5 656.5,142.1 658.1,140.7 659.7,139.4 661.0,138.6 662.3,137.8 663.6,137.0 664.9,136.2 666.2,135.4 667.5,134.7 668.9,133.9 670.2,133.2 671.5,132.4 672.8,131.7 674.2,131.0 675.5,130.3 676.8,129.6 678.2,128.9 679.5,128.2 680.9,127.5 682.2,126.8 683.6,126.2 684.9,125.5 686.3,124.9 687.7,124.3 689.0,123.6 690.4,123.0 691.8,122.4 693.2,121.8 694.5,121.2 695.9,120.7 697.3,120.1 698.7,119.5 700.1,119.0 701.5,118.4 702.9,117.9 704.3,117.3 705.7,116.8 707.1,116.3 708.5,115.8 709.9,115.3 711.3,114.8 712.7,114.3 714.2,113.8 715.6,113.3 717.0,112.9 718.4,112.4 719.9,111.9 721.3,111.5 722.7,111.0 724.2,110.6 725.6,110.2 727.0,109.8 728.5,109.3 729.9,108.9 731.4,108.5 732.8,108.1 734.3,107.7 735.7,107.4 737.2,107.0 738.6,106.6 740.1,106.2 741.5,105.9 743.0,105.5 744.4,105.2 745.9,104.8 747.4,104.5 748.8,104.2 750.3,103.8 751.8,103.5 753.3,103.2 754.7,102.9 756.2,102.6 757.7,102.3 759.2,102.0 760.6,101.7 762.1,101.4 763.6,101.1 765.1,100.9 766.6,100.6 768.1,100.3 769.5,100.1 771.0,99.8 772.5,99.6 774.0,99.3 775.5,99.1 777.0,98.8 778.5,98.6 780.0,98.4 781.5,98.1 783.0,97.9 784.5,97.7 786.0,97.5 787.5,97.3 789.0,97.0 790.5,96.8 792.0,96.6 793.5,96.4 795.0,96.2 796.5,96.1 798.0,95.9 799.5,95.7 801.0,95.5 802.5,95.3 804.0,95.2 805.5,95.0 807.0,94.8 808.5,94.6 810.1,94.5 811.6,94.3 813.1,94.2 814.6,94.0 816.1,93.9 817.6,93.7 819.1,93.6 820.6,93.4 822.1,93.3 823.7,93.1 825.2,93.0 826.7,92.9 828.2,92.7 829.7,92.6 831.2,92.5 832.7,92.4 834.3,92.2 835.8,92.1 837.3,92.0 838.8,91.9 840.3,91.8 841.8,91.6 843.3,91.5 844.9,91.4 846.4,91.3 847.9,91.2 849.4,91.1 850.9,91.0 852.4,90.9 853.9,90.8 855.5,90.7 857.0,90.6 858.5,90.5 860.0,90.4 861.5,90.3 863.0,90.2 864.5,90.1 866.0,90.0 867.5,89.9 869.1,89.8 870.6,89.7 872.1,89.6 873.6,89.5 875.1,89.4 876.6,89.3 878.1,89.2 879.6,89.1 881.1,89.0 882.6,88.9 884.1,88.8 885.6,88.7 887.1,88.6 888.6,88.5 890.1,88.4 891.6,88.3 893.1,88.2 894.6,88.1 896.1,88.0 897.6,87.9 899.1,87.8 900.6,87.7 902.1,87.6 903.6,87.5 905.1,87.4 906.6,87.3 908.0,87.2 909.5,87.1 911.0,87.0 912.5,86.9" fill="none" stroke="#ff0000" stroke-width="2.25" stroke-linejoin="round" stroke-linecap="round"/>
<polyline points="912.5,128.1 911.0,128.2 909.5,128.3 908.0,128.3 906.5,128.4 905.0,128.5 903.5,128.6 902.0,128.6 900.5,128.7 899.0,128.8 897.5,128.9 896.0,129.0 894.5,129.1 893.0,129.1 891.5,129.2 890.0,129.3 888.5,129.4 887.0,129.5 885.5,129.6 884.0,129.7 882.5,129.8 881.0,129.9 879.5,130.0 877.9,130.1 876.4,130.2 874.9,130.3 873.4,130.4 871.9,130.5 870.4,130.6 868.9,130.7 867.4,130.8 865.9,130.9 864.4,131.0 862.9,131.1 861.4,131.2 859.9,131.3 858.4,131.4 856.9,131.5 855.3,131.6 853.8,131.8 852.3,131.9 850.8,132.0 849.3,132.1 847.8,132.2 846.3,132.4 844.8,132.5 843.3,132.6 841.8,132.7 840.3,132.9 838.8,133.0 837.3,133.1 835.7,133.3 834.2,133.4 832.7,133.6 831.2,133.7 829.7,133.8 828.2,134.0 826.7,134.1 825.2,134.3 823.7,134.4 822.2,134.6 820.7,134.8 819.2,134.9 817.7,135.1 816.2,135.2 814.7,135.4 813.1,135.6 811.6,135.7 810.1,135.9 808.6,136.1 807.1,136.2 805.6,136.4 804.1,136.6 802.6,136.8 801.1,137.0 799.6,137.2 798.1,137.3 796.6,137.5 795.1,137.7 793.6,137.9 792.1,138.1 790.6,138.3 789.1,138.5 787.6,138.7 786.1,138.9 784.6,139.2 783.1,139.4 781.6,139.6 780.1,139.8 778.6,140.0 777.1,140.3 775.6,140.5 774.1,140.7 772.6,140.9 771.1,141.2 769.6,141.4 768.1,141.7 766.6,141.9 765.1,142.1 763.6,142.4 762.2,142.7 760.7,142.9 759.2,143.2 757.7,143.4 756.2,143.7 754.7,144.0 753.2,144.2 751.7,144.5 750.2,144.8 748.7,145.1 747.3,145.4 745.8,145.6 744.3,145.9 742.8,146.2 741.3,146.5 739.8,146.8 738.4,147.1 736.9,147.4 735.4,147.7 733.9,148.1 732.4,148.4 731.0,148.7 729.5,149.0 728.0,149.4 726.5,149.7 725.1,150.0 723.6,150.4 722.1,150.7 720.6,151.1 719.2,151.5 717.7,151.8 716.3,152.2 714.8,152.6 713.3,152.9 711.9,153.3 710.4,153.7 709.0,154.1 707.5,154.5 706.1,154.9 704.6,155.4 703.2,155.8 701.7,156.2 700.3,156.7 698.9,157.1 697.4,157.5 696.0,158.0 694.6,158.5 693.1,158.9 691.7,159.4 690.3,159.9 688.9,160.4 687.5,160.9 686.0,161.4 684.6,161.9 683.2,162.4 681.8,163.0 680.4,163.5 679.0,164.1 677.6,164.6 676.3,165.2 674.9,165.8 673.5,166.4 672.1,166.9 670.7,167.5 669.4,168.2 668.0,168.8 666.6,169.4 665.3,170.0 663.9,170.7 662.6,171.3 661.2,172.0 659.9,172.7 658.6,173.4 657.2,174.1 655.9,174.8 654.6,175.5 653.3,176.2 651.9,177.0 650.6,177.7 649.3,178.5 648.0,179.3 646.7,180.0 645.4,180.8 644.2,181.6 642.9,182.5 641.6,183.3 640.3,184.1 639.1,185.0 637.8,185.8 636.5,186.7 635.3,187.6 605.9,215.9 605.1,217.2 604.4,218.5 603.6,219.8 602.8,221.1 602.0,222.3 601.2,223.6 600.4,224.9 599.6,226.2 598.8,227.5 598.0,228.7 597.3,230.0 596.5,231.3 595.7,232.6 594.9,233.9 594.1,235.2 593.3,236.5 592.5,237.7 591.8,239.0 591.0,240.3 590.2,241.6 589.5,242.9 588.7,244.2 588.0,245.5 587.3,246.9 586.6,248.2 585.9,249.5 585.2,250.8 584.5,252.2 583.8,253.5 583.2,254.8 582.5,256.2 581.9,257.6 581.3,258.9 580.7,260.3 580.1,261.7 579.5,263.0 579.0,264.4 578.4,265.8 577.9,267.2 577.4,268.6 576.9,270.0 576.3,271.4 575.9,272.9 575.4,274.3 574.9,275.7 574.4,277.1 574.0,278.5 573.5,280.0 573.1,281.4 572.6,282.9 572.2,284.3 571.8,285.7 571.3,287.2 570.9,288.6 570.5,290.1 570.1,291.5 569.7,293.0 569.3,294.4 568.9,295.9 568.5,297.4 568.1,298.8 567.7,300.3 567.3,301.7 566.9,303.2 566.5,304.6 566.1,306.1 565.7,307.5 565.3,309.0 564.9,310.5 564.5,311.9 564.1,313.4 563.7,314.8 563.2,316.3 562.8,317.7 562.4,319.2 562.0,320.6 561.6,322.0 561.2,323.5 560.7,324.9 560.3,326.4 559.9,327.8 559.5,329.3 559.1,330.7 558.7,332.2 558.3,333.6 557.9,335.1 557.4,336.5 557.0,337.9 556.6,339.4 556.2,340.8 555.8,342.3 555.4,343.7 555.0,345.2 554.7,346.6 554.3,348.1 553.9,349.5 553.5,351.0 553.1,352.4 552.8,353.9 552.4,355.3 552.1,356.8 551.7,358.3 551.4,359.7 551.0,361.2 550.7,362.6 550.4,364.1 550.0,365.6 549.7,367.0 549.4,368.5 549.1,370.0 548.8,371.5 548.5,372.9 548.2,374.4 547.9,375.9 547.6,377.3 547.3,378.8 547.0,380.3 546.7,381.8 546.4,383.2 546.1,384.7 545.8,386.2 545.5,387.7 545.2,389.1 544.9,390.6 544.6,392.1 544.3,393.6 544.0,395.0 543.7,396.5 543.4,398.0 543.0,399.4 542.7,400.9 542.4,402.4 542.0,403.8 541.7,405.3 541.3,406.7 541.0,408.2 540.6,409.7 540.2,411.1 539.8,412.6 539.4,414.0 539.0,415.5 538.6,416.9 538.2,418.4 537.8,419.8 537.3,421.2 536.9,422.7 536.5,424.1 536.0,425.6 535.5,427.0 535.1,428.4 534.6,429.9 534.2,431.3 533.7,432.7 533.2,434.1 532.7,435.6 532.2,437.0 531.7,438.4 531.3,439.8 530.8,441.3 530.3,442.7 529.8,444.1 529.3,445.5 528.8,446.9 528.2,448.3 527.7,449.8 527.2,451.2 526.7,452.6 526.2,454.0 525.6,455.4 525.1,456.8 524.6,458.2 524.0,459.6 523.5,461.0 522.9,462.3 522.3,463.7 521.8,465.1 521.2,466.5 520.6,467.9 520.0,469.2 519.4,470.6 518.8,471.9 518.1,473.3 517.5,474.7 516.9,476.0 516.2,477.3 515.5,478.7 514.8,480.0 514.2,481.3 513.5,482.6 512.7,483.9 512.0,485.2 511.3,486.5 510.5,487.8 509.7,489.1 509.0,490.4 508.2,491.6 507.4,492.9 506.5,494.2 505.7,495.4 504.9,496.7 504.0,497.9 503.1,499.1 502.3,500.4 501.4,501.6 500.5,502.8 499.6,504.0 498.7,505.2 497.7,506.4 496.8,507.6 495.8,508.7 494.9,509.9 493.9,511.1 492.9,512.2 491.9,513.4 490.9,514.5 489.9,515.7 488.9,516.8 487.9,517.9 486.9,519.0 485.8,520.2 484.8,521.3 483.7,522.4 482.6,523.4 481.6,524.5 480.5,525.6 479.4,526.6 478.3,527.7 477.2,528.7 476.0,529.7 474.9,530.7 473.8,531.7 472.6,532.7 471.5,533.7 470.3,534.6 469.1,535.5 468.0,536.5 466.8,537.4 465.6,538.3 464.4,539.2 463.2,540.0 462.0,540.9 460.7,541.8 459.5,542.6 458.3,543.4 457.0,544.2 455.8,545.1 454.5,545.8 453.3,546.6 452.0,547.4 450.7,548.2 449.4,548.9 448.1,549.6 446.8,550.4 445.5,551.1 444.2,551.8 442.9,552.5 441.6,553.2 440.3,553.8 438.9,554.5 437.6,555.2 436.2,555.8 434.9,556.4 433.5,557.1 432.2,557.7 430.8,558.3 429.4,558.9 428.1,559.5 426.7,560.0 425.3,560.6 423.9,561.2 422.5,561.7 421.1,562.3 419.7,562.8 418.3,563.3 416.9,563.8 415.5,564.3 414.1,564.8 412.7,565.3 411.2,565.8 409.8,566.3 408.4,566.7 406.9,567.2 405.5,567.7 404.1,568.1 402.6,568.5 401.2,569.0 399.7,569.4 398.3,569.8 396.8,570.2 395.3,570.6 393.9,571.0 392.4,571.4 390.9,571.8 389.5,572.2 388.0,572.5 386.5,572.9 385.1,573.2 383.6,573.6 382.1,573.9 380.6,574.3 379.1,574.6 377.7,575.0 376.2,575.3 374.7,575.6 373.2,575.9 371.7,576.2 370.2,576.5 368.7,576.8 367.3,577.1 365.8,577.4 364.3,577.7 362.8,578.0 361.3,578.2 359.8,578.5 358.3,578.8 356.8,579.0 355.3,579.3 353.8,579.6 352.3,579.8 350.8,580.1 349.4,580.3 347.9,580.5 346.4,580.8 344.9,581.0 343.4,581.3 341.9,581.5 340.4,581.7 338.9,581.9 337.4,582.1 335.9,582.4 334.5,582.6 333.0,582.8 331.5,583.0 330.0,583.2 328.5,583.4 327.0,583.6 325.5,583.8 324.0,584.0 322.5,584.2 321.1,584.4 319.6,584.5 318.1,584.7 316.6,584.9 315.1,585.1 313.6,585.3 312.1,585.4 310.6,585.6 309.2,585.8 307.7,585.9 306.2,586.1 304.7,586.3 303.2,586.4 301.7,586.6 300.2,586.7 298.7,586.9 297.3,587.0 295.8,587.2 294.3,587.3 292.8,587.5 291.3,587.6 289.8,587.8 288.3,587.9 286.8,588.0 285.3,588.2 283.9,588.3 282.4,588.4 280.9,588.6 279.4,588.7 277.9,588.8 276.4,589.0 274.9,589.1 273.4,589.2 271.9,589.3 270.4,589.5 268.9,589.6 267.5,589.7 266.0,589.8 264.5,590.0 263.0,590.1 261.5,590.2 260.0,590.3 258.5,590.4 257.0,590.5 255.5,590.7 254.0,590.8 252.5,590.9 251.0,591.0 249.5,591.1 248.0,591.2 246.5,591.3 245.0,591.4 243.5,591.6 242.0,591.7 240.5,591.8 239.0,591.9 237.5,592.0 236.0,592.1 234.5,592.2 233.0,592.3 231.5,592.4 230.0,592.5 228.5,592.7 227.0,592.8 225.5,592.9 224.0,593.0 222.5,593.1 221.0,593.2 219.5,593.3 218.0,593.4 216.5,593.5 215.0,593.7 213.5,593.8 211.9,593.9 210.4,594.0 208.9,594.1 207.4,594.2 205.9,594.3" fill="none" stroke="#0000ff" stroke-width="2.25" stroke-linejoin="round" stroke-linecap="round"/>
<polyline points="205.9,594.9 207.4,594.7 208.9,594.6 210.4,594.4 211.9,594.3 213.4,594.1 214.9,594.0 216.4,593.9 217.9,593.8 219.4,593.6 220.9,593.5 222.4,593.4 223.9,593.3 225.4,593.2 226.9,593.0 228.4,592.9 229.9,592.8 231.4,592.7 232.9,592.6 234.4,592.5 235.9,592.4 237.4,592.3 238.9,592.2 240.4,592.1 241.9,592.0 243.4,591.9 244.9,591.8 246.4,591.7 247.9,591.6 249.4,591.5 250.9,591.4 252.4,591.3 254.0,591.2 255.5,591.1 257.0,591.0 258.5,590.9 260.0,590.8 261.5,590.7 263.0,590.6 264.5,590.5 266.0,590.4 267.5,590.3 269.0,590.2 270.5,590.1 272.0,589.9 273.5,589.8 275.0,589.7 276.5,589.6 278.0,589.5 279.5,589.4 281.0,589.2 282.5,589.1 284.0,589.0 285.5,588.8 287.0,588.7 288.5,588.6 290.0,588.4 291.5,588.3 293.0,588.1 294.5,588.0 296.0,587.8 297.5,587.7 299.0,587.5 300.5,587.4 302.0,587.2 303.5,587.0 305.0,586.9 306.5,586.7 308.0,586.5 309.5,586.3 310.9,586.2 312.4,586.0 313.9,585.8 315.4,585.6 316.9,585.4 318.4,585.2 319.9,585.0 321.4,584.8 322.9,584.6 324.4,584.4 325.9,584.2 327.4,584.0 328.8,583.8 330.3,583.6 331.8,583.4 333.3,583.2 334.8,583.0 336.3,582.8 337.8,582.5 339.3,582.3 340.8,582.1 342.2,581.9 343.7,581.6 345.2,581.4 346.7,581.2 348.2,580.9 349.7,580.7 351.2,580.5 352.7,580.2 354.1,580.0 355.6,579.7 357.1,579.5 358.6,579.3 360.1,579.0 361.6,578.8 363.0,578.5 364.5,578.3 366.0,578.0 367.5,577.7 369.0,577.5 370.5,577.2 372.0,577.0 373.4,576.7 374.9,576.4 376.4,576.2 377.9,575.9 379.4,575.6 380.8,575.4 382.3,575.1 383.8,574.8 385.3,574.5 386.8,574.3 388.3,574.0 389.7,573.7 391.2,573.4 392.7,573.1 394.2,572.8 395.6,572.5 397.1,572.2 398.6,571.9 400.0,571.5 401.5,571.2 403.0,570.9 404.4,570.5 405.9,570.2 407.4,569.9 408.8,569.5 410.3,569.1 411.7,568.7 413.2,568.4 414.6,568.0 416.1,567.6 417.5,567.2 419.0,566.8 420.4,566.3 421.9,565.9 423.3,565.5 424.7,565.0 426.2,564.5 427.6,564.1 429.0,563.6 430.4,563.1 431.9,562.6 433.3,562.1 434.7,561.6 436.1,561.1 437.5,560.5 438.9,560.0 440.3,559.4 441.7,558.9 443.1,558.3 444.5,557.7 445.9,557.1 447.2,556.5 448.6,555.9 450.0,555.3 451.3,554.7 452.7,554.0 454.1,553.4 455.4,552.8 456.8,552.1 458.1,551.4 459.5,550.7 460.8,550.0 462.1,549.3 463.4,548.6 464.8,547.9 466.1,547.2 467.4,546.4 468.7,545.7 470.0,544.9 471.3,544.2 472.6,543.4 473.8,542.6 475.1,541.8 476.4,541.0 477.6,540.1 478.9,539.3 480.1,538.5 481.4,537.6 482.6,536.7 483.8,535.9 485.1,535.0 486.3,534.1 487.5,533.2 488.7,532.2 489.9,531.3 491.0,530.4 492.2,529.4 493.4,528.4 494.5,527.5 495.7,526.5 496.8,525.5 497.9,524.5 499.1,523.5 500.2,522.4 501.3,521.4 502.4,520.4 503.4,519.3 504.5,518.2 505.6,517.2 506.6,516.1 507.7,515.0 508.7,513.9 509.7,512.8 510.7,511.7 511.7,510.5 512.7,509.4 513.6,508.2 514.6,507.1 515.5,505.9 516.5,504.7 517.4,503.5 518.3,502.3 519.2,501.1 520.0,499.9 520.9,498.7 521.7,497.5 522.6,496.2 523.4,495.0 524.2,493.7 525.0,492.4 525.7,491.2 526.5,489.9 527.2,488.6 528.0,487.3 528.7,486.0 529.4,484.6 530.1,483.3 530.8,482.0 531.4,480.7 532.1,479.3 532.7,478.0 533.3,476.6 534.0,475.2 534.6,473.9 535.2,472.5 535.8,471.1 536.3,469.7 536.9,468.3 537.5,466.9 538.0,465.5 538.5,464.1 539.1,462.7 539.6,461.3 540.1,459.9 540.6,458.5 541.1,457.0 541.6,455.6 542.1,454.2 542.6,452.7 543.1,451.3 543.5,449.9 544.0,448.4 544.4,447.0 544.9,445.5 545.3,444.1 545.8,442.6 546.2,441.2 546.7,439.7 547.1,438.2 547.5,436.8 548.0,435.3 548.4,433.9 548.8,432.4 549.2,431.0 549.6,429.5 550.1,428.0 550.5,426.6 550.9,425.1 551.3,423.7 551.7,422.2 552.1,420.8 552.5,419.3 552.9,417.9 553.4,416.4 553.8,414.9 554.2,413.5 554.6,412.0 555.0,410.6 555.4,409.1 555.8,407.7 556.2,406.2 556.6,404.8 557.0,403.3 557.4,401.9 557.8,400.4 558.2,399.0 558.6,397.6 559.0,396.1 559.4,394.7 559.8,393.2 560.2,391.8 560.6,390.3 560.9,388.9 561.3,387.4 561.7,386.0 562.1,384.5 562.5,383.1 562.8,381.6 563.2,380.2 563.6,378.7 564.0,377.3 564.3,375.8 564.7,374.3 565.1,372.9 565.4,371.4 565.8,370.0 566.1,368.5 566.5,367.1 566.8,365.6 567.2,364.1 567.5,362.7 567.9,361.2 568.2,359.8 568.5,358.3 568.9,356.8 569.2,355.4 569.5,353.9 569.9,352.4 570.2,351.0 570.5,349.5 570.8,348.0 571.1,346.5 571.4,345.1 571.8,343.6 572.1,342.1 572.4,340.6 572.7,339.2 573.0,337.7 573.3,336.2 573.6,334.7 573.9,333.3 574.2,331.8 574.6,330.3 574.9,328.8 575.2,327.4 575.5,325.9 575.8,324.4 576.2,322.9 576.5,321.5 576.8,320.0 577.1,318.5 577.5,317.1 577.8,315.6 578.2,314.1 578.5,312.7 578.9,311.2 579.2,309.7 579.6,308.3 580.0,306.8 580.3,305.3 580.7,303.9 581.1,302.4 581.5,301.0 581.9,299.5 582.3,298.1 582.7,296.6 583.1,295.2 583.6,293.8 584.0,292.3 584.4,290.9 584.9,289.5 585.4,288.0 585.8,286.6 586.3,285.2 586.8,283.8 587.3,282.4 587.8,281.0 588.4,279.5 588.9,278.1 589.4,276.7 590.0,275.3 590.6,274.0 591.1,272.6 591.7,271.2 592.3,269.8 593.0,268.4 593.6,267.1 594.2,265.7 594.9,264.3 595.5,263.0 596.2,261.6 596.8,260.2 597.5,258.9 598.2,257.5 598.8,256.2 599.5,254.8 600.2,253.4 600.8,252.1 601.5,250.7 602.1,249.4 602.8,248.0 603.4,246.6 604.0,245.2 604.6,243.9 605.2,242.5 605.8,241.1 606.4,239.7 606.9,238.3 607.5,236.9 608.0,235.5 608.5,234.1 608.9,232.6 609.4,231.2 630.6,205.3 631.7,204.2 632.7,203.0 633.8,201.9 634.9,200.8 636.0,199.7 637.1,198.6 638.2,197.6 639.3,196.5 640.4,195.5 641.6,194.5 642.7,193.4 643.8,192.4 645.0,191.4 646.2,190.5 647.3,189.5 648.5,188.5 649.7,187.6 650.9,186.6 652.1,185.7 653.3,184.8 654.5,183.9 655.7,183.0 657.0,182.1 658.2,181.3 659.4,180.4 660.7,179.6 661.9,178.7 663.2,177.9 664.5,177.1 665.8,176.3 667.0,175.5 668.3,174.7 669.6,174.0 670.9,173.2 672.2,172.5 673.5,171.7 674.8,171.0 676.2,170.3 677.5,169.6 678.8,168.9 680.1,168.2 681.5,167.5 682.8,166.9 684.2,166.2 685.5,165.6 686.9,164.9 688.3,164.3 689.6,163.7 691.0,163.1 692.4,162.5 693.8,161.9 695.2,161.3 696.6,160.8 698.0,160.2 699.4,159.7 700.8,159.1 702.2,158.6 703.6,158.1 705.0,157.6 706.4,157.1 707.8,156.6 709.3,156.1 710.7,155.7 712.1,155.2 713.5,154.8 715.0,154.3 716.4,153.9 717.9,153.4 719.3,153.0 720.8,152.6 722.2,152.2 723.7,151.8 725.1,151.4 726.6,151.0 728.0,150.7 729.5,150.3 731.0,149.9 732.4,149.6 733.9,149.2 735.4,148.9 736.9,148.5 738.3,148.2 739.8,147.9 741.3,147.5 742.8,147.2 744.2,146.9 745.7,146.6 747.2,146.3 748.7,146.0 750.2,145.7 751.7,145.4 753.2,145.2 754.7,144.9 756.1,144.6 757.6,144.3 759.1,144.1 760.6,143.8 762.1,143.5 763.6,143.3 765.1,143.0 766.6,142.8 768.1,142.5 769.6,142.3 771.1,142.1 772.6,141.8 774.1,141.6 775.6,141.3 777.1,141.1 778.6,140.9 780.1,140.7 781.6,140.4 783.1,140.2 784.6,140.0 786.1,139.8 787.6,139.6 789.1,139.4 790.6,139.2 792.1,139.0 793.6,138.8 795.1,138.6 796.6,138.4 798.1,138.2 799.6,138.0 801.1,137.8 802.6,137.6 804.1,137.5 805.6,137.3 807.1,137.1 808.6,136.9 810.1,136.8 811.6,136.6 813.1,136.4 814.6,136.3 816.1,136.1 817.6,135.9 819.1,135.8 820.6,135.6 822.1,135.5 823.6,135.3 825.1,135.2 826.6,135.0 828.1,134.9 829.6,134.7 831.1,134.6 832.6,134.4 834.1,134.3 835.6,134.2 837.2,134.0 838.7,133.9 840.2,133.8 841.7,133.6 843.2,133.5 844.7,133.4 846.2,133.3 847.7,133.1 849.2,133.0 850.7,132.9 852.2,132.8 853.7,132.7 855.2,132.5 856.7,132.4 858.2,132.3 859.8,132.2 861.3,132.1 862.8,132.0 864.3,131.9 865.8,131.8 867.3,131.7 868.8,131.6 870.3,131.5 871.8,131.4 873.3,131.3 874.8,131.2 876.3,131.1 877.8,131.0 879.3,130.9 880.9,130.8 882.4,130.7 883.9,130.6 885.4,130.5 886.9,130.5 888.4,130.4 889.9,130.3 891.4,130.2 892.9,130.1 894.4,130.0 895.9,130.0 897.4,129.9 898.9,129.8 900.4,129.7 902.0,129.6 903.5,129.6 905.0,129.5 906.5,129.4 908.0,129.3 909.5,129.2 911.0,129.2 912.5,129.1" fill="none" stroke="#0000ff" stroke-width="2.25" stroke-linejoin="round" stroke-linecap="round"/>
<polyline points="912.5,139.5 911.0,139.6 909.5,139.6 908.0,139.7 906.5,139.8 905.0,139.9 903.5,139.9 902.0,140.0 900.5,140.1 899.0,140.2 897.5,140.3 896.0,140.3 894.5,140.4 893.0,140.5 891.5,140.6 890.0,140.7 888.5,140.8 887.0,140.9 885.5,141.0 884.0,141.1 882.5,141.2 881.0,141.3 879.5,141.4 878.0,141.5 876.5,141.6 875.0,141.7 873.5,141.8 872.0,141.9 870.5,142.0 869.0,142.1 867.5,142.3 866.0,142.4 864.5,142.5 863.0,142.6 861.5,142.7 860.0,142.8 858.5,143.0 857.0,143.1 855.5,143.2 854.0,143.3 852.5,143.5 851.0,143.6 849.5,143.7 848.0,143.8 846.5,144.0 845.0,144.1 843.5,144.2 842.0,144.4 840.5,144.5 839.0,144.6 837.5,144.8 836.0,144.9 834.5,145.1 833.0,145.2 831.5,145.3 830.0,145.5 828.5,145.6 827.1,145.8 825.6,145.9 824.1,146.0 822.6,146.2 821.1,146.3 819.6,146.5 818.1,146.6 816.6,146.8 815.1,146.9 813.6,147.1 812.1,147.2 810.6,147.4 809.1,147.5 807.6,147.7 806.1,147.8 804.6,148.0 803.1,148.1 801.6,148.3 800.1,148.5 798.6,148.6 797.1,148.8 795.7,148.9 794.2,149.1 792.7,149.2 791.2,149.4 789.7,149.6 788.2,149.7 786.7,149.9 785.2,150.0 783.7,150.2 782.2,150.4 780.7,150.5 779.2,150.7 777.8,150.9 776.3,151.0 774.8,151.2 773.3,151.4 771.8,151.6 770.3,151.7 768.8,151.9 767.3,152.1 765.8,152.3 764.4,152.5 762.9,152.7 761.4,152.9 759.9,153.1 758.4,153.3 756.9,153.6 755.4,153.8 754.0,154.0 752.5,154.3 751.0,154.5 749.5,154.8 748.0,155.0 746.6,155.3 745.1,155.6 743.6,155.9 742.1,156.2 740.6,156.5 739.2,156.8 737.7,157.1 736.2,157.5 734.7,157.8 733.3,158.2 731.8,158.5 730.3,158.9 728.9,159.2 727.4,159.6 725.9,159.9 724.4,160.3 723.0,160.6 721.5,161.0 720.1,161.4 718.6,161.7 717.1,162.1 715.7,162.5 714.2,162.8 712.7,163.2 711.3,163.6 709.8,163.9 708.4,164.3 706.9,164.7 705.5,165.1 704.1,165.5 702.6,165.9 701.2,166.3 699.8,166.7 698.4,167.2 697.0,167.6 695.5,168.1 694.1,168.5 692.7,169.0 691.3,169.5 689.9,170.0 688.6,170.4 687.2,171.0 685.8,171.5 684.4,172.0 683.0,172.5 681.6,173.0 680.2,173.6 678.8,174.1 677.4,174.6 676.0,175.2 674.6,175.8 673.2,176.3 671.8,176.9 670.4,177.5 669.0,178.1 667.6,178.7 666.2,179.3 664.8,179.9 663.4,180.5 662.0,181.1 660.7,181.7 659.3,182.4 657.9,183.0 656.5,183.7 655.1,184.3 653.8,185.0 652.4,185.7 651.0,186.4 649.7,187.1 648.3,187.8 647.0,188.5 645.6,189.2 644.3,189.9 643.0,190.7 641.6,191.4 640.3,192.2 639.0,193.0 637.7,193.7 636.4,194.5 635.1,195.3 633.9,196.2 632.6,197.0 631.4,197.8 630.1,198.7 628.9,199.5 627.6,200.4 626.4,201.3 625.2,202.2 624.0,203.1 622.8,204.0 621.7,205.0 620.5,205.9 619.4,206.9 618.2,207.8 617.1,208.8 616.0,209.8 614.9,210.8 613.8,211.9 612.8,212.9 611.7,213.9 610.7,215.0 609.7,216.1 608.7,217.2 607.7,218.3 606.7,219.4 605.7,220.6 604.8,221.7 603.9,222.9 603.0,224.1 602.1,225.3 601.2,226.5 600.3,227.7 599.5,228.9 598.7,230.2 597.9,231.4 597.1,232.7 596.3,234.0 595.5,235.3 594.8,236.6 594.0,237.9 593.3,239.2 592.6,240.6 591.9,241.9 591.2,243.2 590.5,244.6 589.8,245.9 589.2,247.3 588.5,248.7 587.9,250.1 587.2,251.4 586.6,252.8 586.0,254.2 585.4,255.6 584.8,257.0 584.2,258.4 583.7,259.8 583.1,261.2 582.5,262.6 582.0,264.0 581.4,265.4 580.9,266.8 580.4,268.2 579.8,269.6 579.3,271.1 578.8,272.5 578.3,273.9 577.8,275.3 577.3,276.7 576.8,278.1 576.3,279.5 575.8,281.0 575.3,282.4 574.8,283.8 574.3,285.2 573.8,286.6 573.4,288.0 572.9,289.5 572.4,290.9 571.9,292.3 571.4,293.7 570.9,295.1 570.5,296.5 570.0,298.0 569.5,299.4 569.0,300.8 568.5,302.2 568.0,303.6 567.5,305.0 567.0,306.5 566.5,307.9 566.0,309.3 565.5,310.7 565.0,312.1 564.5,313.5 564.0,314.9 563.4,316.3 562.9,317.8 562.4,319.2 561.9,320.6 561.4,322.0 560.8,323.4 560.3,324.8 559.8,326.2 559.3,327.7 558.8,329.1 558.3,330.5 557.8,331.9 557.3,333.3 556.8,334.8 556.4,336.2 555.9,337.6 555.4,339.1 555.0,340.5 554.6,341.9 554.2,343.4 553.7,344.8 553.4,346.3 553.0,347.7 552.6,349.2 552.3,350.7 551.9,352.1 551.6,353.6 551.2,355.1 550.9,356.5 550.6,358.0 550.3,359.5 550.0,361.0 549.7,362.4 549.4,363.9 549.2,365.4 548.9,366.9 548.6,368.4 548.3,369.8 548.0,371.3 547.8,372.8 547.5,374.3 547.2,375.8 546.9,377.3 546.6,378.7 546.3,380.2 546.0,381.7 545.7,383.2 545.4,384.6 545.1,386.1 544.8,387.6 544.5,389.0 544.1,390.5 543.8,391.9 543.4,393.4 543.1,394.9 542.7,396.3 542.3,397.8 541.9,399.2 541.6,400.6 541.2,402.1 540.8,403.5 540.4,405.0 540.0,406.4 539.5,407.8 539.1,409.3 538.7,410.7 538.3,412.1 537.8,413.6 537.4,415.0 536.9,416.4 536.5,417.9 536.0,419.3 535.6,420.7 535.1,422.1 534.6,423.6 534.2,425.0 533.7,426.4 533.2,427.8 532.7,429.2 532.2,430.7 531.7,432.1 531.2,433.5 530.7,434.9 530.2,436.3 529.7,437.8 529.2,439.2 528.7,440.6 528.2,442.0 527.7,443.4 527.2,444.8 526.6,446.3 526.1,447.7 525.6,449.1 525.0,450.5 524.5,451.9 524.0,453.3 523.4,454.7 522.9,456.1 522.3,457.5 521.7,458.9 521.2,460.3 520.6,461.7 520.0,463.1 519.4,464.5 518.8,465.8 518.2,467.2 517.6,468.6 516.9,469.9 516.3,471.3 515.6,472.6 515.0,474.0 514.3,475.3 513.6,476.6 512.9,477.9 512.2,479.2 511.5,480.5 510.7,481.8 510.0,483.1 509.2,484.4 508.4,485.6 507.6,486.9 506.8,488.1 505.9,489.3 505.0,490.5 504.1,491.7 503.2,492.9 502.3,494.0 501.4,495.2 500.4,496.4 499.5,497.5 498.5,498.6 497.5,499.8 496.5,500.9 495.5,502.0 494.5,503.1 493.4,504.1 492.4,505.2 491.3,506.3 490.2,507.3 489.2,508.4 488.1,509.4 487.0,510.5 485.8,511.5 484.7,512.5 483.6,513.5 482.5,514.5 481.3,515.5 480.2,516.5 479.0,517.5 477.8,518.5 476.7,519.4 475.5,520.4 474.3,521.3 473.1,522.3 472.0,523.2 470.8,524.2 469.6,525.1 468.4,526.0 467.2,527.0 466.0,527.9 464.8,528.8 463.6,529.7 462.3,530.6 461.1,531.4 459.9,532.3 458.7,533.2 457.4,534.0 456.2,534.8 454.9,535.7 453.7,536.5 452.4,537.2 451.1,538.0 449.8,538.8 448.5,539.5 447.2,540.2 445.9,540.9 444.5,541.6 443.2,542.3 441.8,542.9 440.5,543.5 439.1,544.2 437.7,544.8 436.4,545.4 435.0,546.0 433.6,546.5 432.2,547.1 430.8,547.6 429.4,548.2 428.0,548.7 426.6,549.2 425.1,549.7 423.7,550.2 422.3,550.7 420.9,551.2 419.4,551.7 418.0,552.2 416.6,552.6 415.2,553.1 413.7,553.5 412.3,554.0 410.9,554.4 409.4,554.9 408.0,555.3 406.5,555.7 405.1,556.2 403.7,556.6 402.2,557.0 400.8,557.4 399.3,557.8 397.9,558.2 396.4,558.6 395.0,558.9 393.5,559.3 392.1,559.7 390.6,560.1 389.2,560.4 387.7,560.8 386.2,561.1 384.8,561.5 383.3,561.8 381.9,562.2 380.4,562.5 378.9,562.8 377.5,563.1 376.0,563.5 374.6,563.8 373.1,564.1 371.6,564.4 370.1,564.7 368.7,565.0 367.2,565.3 365.7,565.5 364.3,565.8 362.8,566.1 361.3,566.4 359.8,566.7 358.4,566.9 356.9,567.2 355.4,567.4 353.9,567.7 352.5,567.9 351.0,568.2 349.5,568.4 348.0,568.7 346.5,568.9 345.0,569.1 343.6,569.4 342.1,569.6 340.6,569.8 339.1,570.0 337.6,570.3 336.1,570.5 334.6,570.7 333.2,570.9 331.7,571.1 330.2,571.3 328.7,571.5 327.2,571.7 325.7,571.9 324.2,572.1 322.7,572.3 321.2,572.4 319.7,572.6 318.2,572.8 316.7,573.0 315.3,573.1 313.8,573.3 312.3,573.5 310.8,573.7 309.3,573.8 307.8,574.0 306.3,574.1 304.8,574.3 303.3,574.5 301.8,574.6 300.3,574.8 298.8,574.9 297.3,575.1 295.8,575.2 294.3,575.4 292.8,575.5 291.3,575.6 289.8,575.8 288.3,575.9 286.8,576.1 285.3,576.2 283.8,576.3 282.3,576.5 280.8,576.6 279.3,576.7 277.8,576.9 276.3,577.0 274.8,577.1 273.3,577.2 271.8,577.4 270.3,577.5 268.8,577.6 267.3,577.7 265.8,577.9 264.3,578.0 262.8,578.1 261.3,578.2 259.8,578.3 258.3,578.5 256.8,578.6 255.3,578.7 253.8,578.8 252.3,578.9 250.8,579.1 249.3,579.2 247.8,579.3 246.3,579.4 244.8,579.5 243.3,579.7 241.8,579.8 240.3,579.9 238.8,580.0 237.3,580.1 235.8,580.3 234.3,580.4 232.8,580.5 231.3,580.6 229.8,580.8 228.3,580.9 226.8,581.0 225.3,581.1 223.8,581.3 222.3,581.4 220.8,581.5 219.3,581.6 217.8,581.8 216.3,581.9 214.8,582.0 213.3,582.2 211.9,582.3 210.4,582.4 208.9,582.6 207.4,582.7 205.9,582.8" fill="none" stroke="#008080" stroke-width="2.25" stroke-linejoin="round" stroke-linecap="round"/>
<polyline points="205.9,583.3 207.4,583.2 208.9,583.1 210.4,582.9 211.9,582.8 213.4,582.7 214.9,582.5 216.4,582.4 217.9,582.3 219.4,582.2 220.9,582.0 222.4,581.9 223.8,581.8 225.3,581.7 226.8,581.5 228.3,581.4 229.8,581.3 231.3,581.2 232.8,581.0 234.3,580.9 235.8,580.8 237.3,580.7 238.8,580.6 240.3,580.4 241.8,580.3 243.3,580.2 244.8,580.1 246.3,580.0 247.8,579.8 249.3,579.7 250.8,579.6 252.3,579.5 253.8,579.3 255.3,579.2 256.8,579.1 258.3,579.0 259.8,578.9 261.3,578.7 262.8,578.6 264.3,578.5 265.8,578.4 267.3,578.2 268.8,578.1 270.3,578.0 271.8,577.9 273.3,577.7 274.8,577.6 276.3,577.5 277.8,577.3 279.3,577.2 280.8,577.1 282.3,576.9 283.8,576.8 285.3,576.7 286.8,576.5 288.3,576.4 289.8,576.3 291.3,576.1 292.8,576.0 294.2,575.8 295.7,575.7 297.2,575.5 298.7,575.4 300.2,575.2 301.7,575.1 303.2,574.9 304.7,574.8 306.2,574.6 307.7,574.4 309.2,574.3 310.7,574.1 312.2,573.9 313.7,573.8 315.2,573.6 316.6,573.4 318.1,573.2 319.6,573.1 321.1,572.9 322.6,572.7 324.1,572.5 325.6,572.3 327.1,572.1 328.6,571.9 330.1,571.7 331.5,571.5 333.0,571.3 334.5,571.1 336.0,570.9 337.5,570.7 339.0,570.5 340.5,570.3 341.9,570.1 343.4,569.8 344.9,569.6 346.4,569.4 347.9,569.2 349.4,568.9 350.8,568.7 352.3,568.5 353.8,568.2 355.3,568.0 356.8,567.7 358.2,567.5 359.7,567.2 361.2,567.0 362.7,566.7 364.2,566.5 365.7,566.2 367.1,566.0 368.6,565.7 370.1,565.5 371.6,565.2 373.1,565.0 374.5,564.7 376.0,564.4 377.5,564.2 379.0,563.9 380.5,563.6 381.9,563.4 383.4,563.1 384.9,562.8 386.4,562.5 387.9,562.3 389.4,562.0 390.8,561.7 392.3,561.4 393.8,561.2 395.3,560.9 396.8,560.6 398.2,560.3 399.7,560.0 401.2,559.8 402.7,559.5 404.2,559.2 405.7,558.9 407.1,558.6 408.6,558.3 410.1,558.0 411.6,557.7 413.0,557.4 414.5,557.1 416.0,556.7 417.5,556.4 418.9,556.0 420.4,555.7 421.8,555.3 423.3,555.0 424.7,554.6 426.2,554.2 427.6,553.8 429.1,553.4 430.5,553.0 431.9,552.5 433.4,552.1 434.8,551.6 436.2,551.1 437.6,550.6 439.0,550.1 440.4,549.6 441.8,549.1 443.2,548.5 444.5,548.0 445.9,547.4 447.3,546.8 448.6,546.2 450.0,545.5 451.3,544.9 452.6,544.2 454.0,543.5 455.3,542.8 456.6,542.0 457.9,541.3 459.2,540.5 460.5,539.8 461.8,539.0 463.0,538.2 464.3,537.4 465.6,536.6 466.8,535.7 468.1,534.9 469.4,534.0 470.6,533.2 471.9,532.3 473.1,531.5 474.3,530.6 475.6,529.7 476.8,528.8 478.0,527.9 479.3,527.1 480.5,526.2 481.7,525.3 482.9,524.4 484.1,523.5 485.4,522.6 486.6,521.7 487.8,520.8 489.0,519.9 490.2,519.0 491.4,518.1 492.6,517.2 493.8,516.3 494.9,515.3 496.1,514.4 497.3,513.5 498.4,512.5 499.6,511.6 500.7,510.6 501.9,509.6 503.0,508.6 504.1,507.6 505.3,506.6 506.4,505.6 507.5,504.6 508.6,503.6 509.7,502.5 510.7,501.5 511.8,500.4 512.8,499.3 513.9,498.2 514.9,497.1 515.9,496.0 516.9,494.9 517.9,493.8 518.9,492.6 519.9,491.5 520.8,490.3 521.8,489.1 522.7,488.0 523.6,486.8 524.5,485.6 525.4,484.4 526.2,483.1 527.1,481.9 527.9,480.6 528.7,479.4 529.5,478.1 530.3,476.8 531.0,475.6 531.8,474.3 532.5,472.9 533.2,471.6 533.9,470.3 534.5,469.0 535.2,467.6 535.8,466.2 536.4,464.9 537.0,463.5 537.6,462.1 538.2,460.7 538.7,459.3 539.3,457.9 539.8,456.5 540.3,455.1 540.8,453.7 541.3,452.3 541.8,450.8 542.3,449.4 542.8,448.0 543.2,446.6 543.7,445.1 544.2,443.7 544.6,442.3 545.1,440.8 545.5,439.4 545.9,437.9 546.4,436.5 546.8,435.1 547.2,433.6 547.6,432.2 548.0,430.7 548.5,429.3 548.9,427.8 549.3,426.4 549.7,424.9 550.1,423.5 550.5,422.0 550.9,420.6 551.3,419.1 551.7,417.7 552.1,416.2 552.5,414.8 552.9,413.3 553.3,411.9 553.7,410.4 554.1,409.0 554.5,407.5 555.0,406.1 555.4,404.6 555.8,403.2 556.2,401.8 556.7,400.3 557.1,398.9 557.5,397.4 558.0,396.0 558.4,394.6 558.9,393.1 559.3,391.7 559.8,390.3 560.2,388.8 560.7,387.4 561.1,386.0 561.6,384.6 562.0,383.1 562.5,381.7 562.9,380.3 563.4,378.8 563.9,377.4 564.3,376.0 564.7,374.5 565.2,373.1 565.6,371.7 566.1,370.2 566.5,368.8 566.9,367.4 567.3,365.9 567.8,364.5 568.2,363.0 568.6,361.6 569.0,360.1 569.3,358.7 569.7,357.2 570.1,355.8 570.5,354.3 570.8,352.9 571.2,351.4 571.6,349.9 571.9,348.5 572.3,347.0 572.6,345.6 572.9,344.1 573.3,342.6 573.6,341.2 574.0,339.7 574.3,338.2 574.6,336.8 575.0,335.3 575.3,333.8 575.6,332.4 576.0,330.9 576.3,329.4 576.6,328.0 577.0,326.5 577.3,325.0 577.7,323.6 578.0,322.1 578.3,320.6 578.7,319.2 579.1,317.7 579.4,316.3 579.8,314.8 580.2,313.4 580.5,311.9 580.9,310.5 581.3,309.0 581.7,307.6 582.1,306.1 582.5,304.7 582.9,303.3 583.3,301.8 583.8,300.4 584.2,299.0 584.6,297.5 585.1,296.1 585.5,294.7 586.0,293.2 586.5,291.8 586.9,290.4 587.4,289.0 587.9,287.6 588.4,286.1 588.9,284.7 589.4,283.3 589.9,281.9 590.4,280.5 590.9,279.1 591.4,277.7 592.0,276.3 592.5,274.9 593.0,273.5 593.6,272.1 594.2,270.7 594.7,269.3 595.3,267.9 595.9,266.5 596.4,265.1 597.0,263.7 597.6,262.3 598.2,260.9 598.8,259.6 599.4,258.2 600.0,256.8 600.6,255.4 601.2,254.0 601.8,252.7 602.4,251.3 603.0,249.9 603.7,248.6 604.3,247.2 605.0,245.9 605.7,244.5 606.4,243.2 607.1,241.9 607.8,240.6 608.5,239.3 609.3,238.0 610.0,236.7 610.8,235.5 611.6,234.2 612.5,233.0 613.3,231.7 614.2,230.5 615.1,229.3 616.0,228.1 616.9,227.0 617.8,225.8 618.8,224.7 619.8,223.5 620.8,222.4 621.8,221.3 622.8,220.2 623.8,219.1 624.8,218.0 625.9,216.9 627.0,215.9 628.0,214.8 629.1,213.8 630.2,212.8 631.4,211.8 632.5,210.8 633.6,209.8 634.8,208.8 635.9,207.9 637.1,206.9 638.2,206.0 639.4,205.1 640.6,204.1 641.8,203.2 643.0,202.3 644.2,201.5 645.4,200.6 646.7,199.7 647.9,198.8 649.1,198.0 650.4,197.2 651.6,196.3 652.9,195.5 654.2,194.7 655.4,193.9 656.7,193.1 658.0,192.3 659.3,191.6 660.6,190.8 661.9,190.0 663.2,189.3 664.5,188.5 665.8,187.8 667.1,187.0 668.4,186.3 669.7,185.6 671.0,184.9 672.3,184.1 673.7,183.4 675.0,182.7 676.3,182.0 677.7,181.3 679.0,180.5 680.3,179.8 681.7,179.1 683.0,178.4 684.3,177.7 685.7,177.0 687.0,176.3 688.4,175.6 689.7,174.9 691.1,174.2 692.4,173.6 693.8,172.9 695.2,172.3 696.5,171.6 697.9,171.0 699.3,170.4 700.7,169.8 702.1,169.2 703.5,168.7 704.8,168.1 706.2,167.6 707.6,167.0 709.0,166.5 710.4,166.0 711.9,165.5 713.3,165.0 714.7,164.5 716.1,164.0 717.5,163.6 718.9,163.1 720.4,162.7 721.8,162.3 723.2,161.8 724.7,161.4 726.1,161.0 727.6,160.6 729.0,160.3 730.4,159.9 731.9,159.5 733.3,159.2 734.8,158.8 736.2,158.5 737.7,158.2 739.2,157.8 740.6,157.5 742.1,157.2 743.6,156.9 745.0,156.6 746.5,156.3 748.0,156.0 749.4,155.8 750.9,155.5 752.4,155.3 753.9,155.0 755.3,154.7 756.8,154.5 758.3,154.3 759.8,154.0 761.3,153.8 762.8,153.6 764.3,153.4 765.7,153.2 767.2,153.0 768.7,152.8 770.2,152.6 771.7,152.4 773.2,152.2 774.7,152.0 776.2,151.8 777.7,151.7 779.2,151.5 780.7,151.3 782.2,151.1 783.7,151.0 785.2,150.8 786.7,150.7 788.2,150.5 789.7,150.4 791.2,150.2 792.7,150.1 794.2,149.9 795.7,149.8 797.2,149.6 798.7,149.5 800.2,149.3 801.7,149.2 803.2,149.0 804.7,148.9 806.2,148.8 807.7,148.6 809.2,148.5 810.7,148.3 812.2,148.2 813.7,148.1 815.2,147.9 816.7,147.8 818.2,147.6 819.7,147.5 821.2,147.4 822.7,147.2 824.2,147.1 825.7,146.9 827.2,146.8 828.7,146.7 830.2,146.5 831.6,146.4 833.1,146.2 834.6,146.1 836.1,146.0 837.6,145.8 839.1,145.7 840.6,145.6 842.1,145.4 843.6,145.3 845.1,145.2 846.6,145.0 848.1,144.9 849.6,144.8 851.1,144.6 852.6,144.5 854.0,144.4 855.5,144.2 857.0,144.1 858.5,144.0 860.0,143.9 861.5,143.7 863.0,143.6 864.5,143.5 866.0,143.4 867.5,143.3 869.0,143.1 870.5,143.0 872.0,142.9 873.5,142.8 875.0,142.7 876.5,142.6 878.0,142.5 879.5,142.4 880.9,142.3 882.4,142.2 883.9,142.0 885.4,141.9 886.9,141.9 888.4,141.8 889.9,141.7 891.4,141.6 892.9,141.5 894.4,141.4 895.9,141.3 897.4,141.2 898.9,141.1 900.4,141.1 902.0,141.0 903.5,140.9 905.0,140.8 906.5,140.8 908.0,140.7 909.5,140.6 911.0,140.6 912.5,140.5" fill="none" stroke="#008080" stroke-width="2.25" stroke-linejoin="round" stroke-linecap="round"/>
<polyline points="912.5,158.3 911.0,158.4 909.5,158.5 908.0,158.6 906.5,158.7 905.0,158.8 903.5,158.9 901.9,159.0 900.4,159.1 898.9,159.2 897.4,159.3 895.9,159.4 894.4,159.5 892.9,159.6 891.4,159.7 889.9,159.8 888.4,159.9 886.9,160.0 885.4,160.1 883.8,160.2 882.3,160.3 880.8,160.4 879.3,160.5 877.8,160.6 876.3,160.7 874.8,160.8 873.3,161.0 871.8,161.1 870.3,161.2 868.8,161.3 867.3,161.4 865.8,161.5 864.2,161.7 862.7,161.8 861.2,161.9 859.7,162.0 858.2,162.1 856.7,162.3 855.2,162.4 853.7,162.5 852.2,162.6 850.7,162.8 849.2,162.9 847.7,163.0 846.2,163.2 844.7,163.3 843.2,163.5 841.7,163.6 840.1,163.7 838.6,163.9 837.1,164.0 835.6,164.2 834.1,164.3 832.6,164.5 831.1,164.6 829.6,164.8 828.1,164.9 826.6,165.1 825.1,165.2 823.6,165.4 822.1,165.6 820.6,165.7 819.1,165.9 817.6,166.1 816.1,166.3 814.6,166.4 813.1,166.6 811.6,166.8 810.1,167.0 808.6,167.1 807.1,167.3 805.6,167.5 804.1,167.7 802.6,167.9 801.1,168.1 799.6,168.3 798.1,168.5 796.6,168.7 795.1,168.9 793.6,169.1 792.1,169.3 790.6,169.5 789.1,169.7 787.6,170.0 786.2,170.2 784.7,170.4 783.2,170.6 781.7,170.9 780.2,171.1 778.7,171.3 777.2,171.6 775.7,171.8 774.2,172.0 772.7,172.3 771.2,172.5 769.7,172.8 768.3,173.0 766.8,173.3 765.3,173.6 763.8,173.8 762.3,174.1 760.8,174.4 759.3,174.6 757.8,174.9 756.4,175.2 754.9,175.5 753.4,175.8 751.9,176.1 750.4,176.4 748.9,176.6 747.5,176.9 746.0,177.2 744.5,177.5 743.0,177.9 741.5,178.2 740.1,178.5 738.6,178.8 737.1,179.1 735.6,179.4 734.1,179.8 732.7,180.1 731.2,180.4 729.7,180.8 728.2,181.1 726.8,181.4 725.3,181.8 723.8,182.1 722.4,182.5 720.9,182.8 719.4,183.2 717.9,183.5 716.5,183.9 715.0,184.2 713.5,184.6 712.1,185.0 710.6,185.3 709.1,185.7 707.7,186.1 706.2,186.5 704.7,186.8 703.3,187.2 701.8,187.6 700.3,188.0 698.9,188.4 697.4,188.8 696.0,189.2 694.5,189.6 693.0,190.0 691.6,190.4 690.1,190.8 688.7,191.2 687.2,191.6 685.7,192.0 684.3,192.4 682.8,192.8 681.4,193.3 679.9,193.7 678.5,194.1 677.0,194.5 675.6,195.0 674.1,195.4 672.7,195.9 671.2,196.3 669.8,196.8 668.3,197.2 666.9,197.7 665.5,198.1 664.0,198.6 662.6,199.1 661.2,199.6 659.8,200.1 658.4,200.7 657.0,201.2 655.6,201.7 654.2,202.3 652.8,202.9 651.4,203.5 650.1,204.1 648.7,204.7 647.3,205.3 646.0,206.0 644.7,206.6 643.3,207.3 642.0,208.0 640.7,208.7 639.4,209.5 638.1,210.2 636.8,211.0 635.6,211.8 634.3,212.6 633.1,213.5 631.8,214.3 630.6,215.2 629.4,216.2 628.2,217.1 627.0,217.9 625.9,218.8 624.7,219.6 623.4,220.4 622.2,221.3 620.9,222.1 619.6,222.9 618.4,223.7 617.1,224.5 615.8,225.4 614.4,226.2 613.1,227.0 611.8,227.8 610.5,228.7 609.2,229.5 607.9,230.3 606.6,231.2 605.3,232.1 604.0,232.9 602.7,233.8 601.5,234.7 600.3,235.7 599.0,236.6 597.8,237.5 596.7,238.5 595.5,239.5 594.4,240.5 593.3,241.6 592.3,242.6 591.2,243.7 590.3,244.8 589.3,245.9 588.4,247.1 587.5,248.3 586.7,249.5 585.9,250.7 585.1,252.0 584.4,253.3 583.7,254.6 583.0,255.9 582.3,257.2 581.7,258.6 581.1,259.9 580.5,261.3 579.9,262.7 579.4,264.1 578.8,265.5 578.3,266.9 577.8,268.4 577.3,269.8 576.8,271.3 576.3,272.7 575.8,274.2 575.3,275.6 574.8,277.1 574.3,278.5 573.8,280.0 573.4,281.4 572.9,282.9 572.4,284.3 571.8,285.8 571.3,287.2 570.8,288.6 570.3,290.1 569.7,291.5 569.2,292.9 568.7,294.3 568.1,295.7 567.6,297.2 567.1,298.6 566.5,300.0 566.0,301.4 565.4,302.8 564.9,304.2 564.3,305.6 563.8,307.0 563.3,308.4 562.7,309.9 562.2,311.3 561.7,312.7 561.2,314.1 560.7,315.5 560.2,316.9 559.7,318.3 559.2,319.8 558.7,321.2 558.2,322.6 557.7,324.0 557.3,325.5 556.8,326.9 556.4,328.3 556.0,329.8 555.6,331.2 555.2,332.7 554.8,334.2 554.4,335.6 554.0,337.1 553.6,338.5 553.3,340.0 552.9,341.5 552.6,343.0 552.2,344.4 551.9,345.9 551.6,347.4 551.2,348.9 550.9,350.4 550.6,351.8 550.3,353.3 550.0,354.8 549.7,356.3 549.4,357.8 549.1,359.3 548.9,360.8 548.6,362.3 548.3,363.8 548.0,365.3 547.7,366.8 547.5,368.3 547.2,369.8 546.9,371.2 546.7,372.7 546.4,374.2 546.1,375.7 545.8,377.2 545.6,378.7 545.3,380.2 545.0,381.7 544.8,383.2 544.5,384.7 544.2,386.2 544.0,387.7 543.7,389.2 543.4,390.7 543.1,392.1 542.8,393.6 542.5,395.1 542.2,396.6 541.9,398.1 541.5,399.5 541.2,401.0 540.8,402.5 540.5,403.9 540.1,405.4 539.7,406.8 539.2,408.2 538.8,409.7 538.3,411.1 537.8,412.5 537.3,413.9 536.8,415.3 536.2,416.7 535.6,418.1 535.0,419.4 534.4,420.8 533.7,422.2 533.1,423.5 532.4,424.9 531.7,426.2 531.1,427.6 530.4,428.9 529.7,430.3 529.0,431.6 528.3,432.9 527.6,434.3 526.9,435.6 526.2,437.0 525.5,438.3 524.8,439.6 524.1,441.0 523.4,442.3 522.7,443.7 522.1,445.1 521.4,446.4 520.8,447.8 520.2,449.2 519.6,450.5 518.9,451.9 518.3,453.3 517.7,454.7 517.1,456.1 516.5,457.4 515.9,458.8 515.3,460.2 514.6,461.6 514.0,462.9 513.3,464.3 512.7,465.6 512.0,467.0 511.3,468.3 510.5,469.6 509.8,470.9 509.0,472.2 508.2,473.5 507.1,474.7 506.1,475.8 505.0,477.0 504.0,478.1 502.9,479.2 501.8,480.3 500.7,481.4 499.6,482.5 498.5,483.6 497.4,484.7 496.3,485.7 495.1,486.8 494.0,487.8 492.9,488.8 491.7,489.8 490.6,490.8 489.4,491.8 488.3,492.8 487.1,493.8 485.9,494.7 484.7,495.7 483.5,496.6 482.4,497.5 481.2,498.5 480.0,499.4 478.7,500.3 477.5,501.2 476.3,502.0 475.1,502.9 473.9,503.8 472.6,504.6 471.4,505.5 470.1,506.3 468.9,507.1 467.6,507.9 466.4,508.7 465.1,509.5 463.8,510.3 462.5,511.1 461.3,511.9 460.0,512.6 458.7,513.4 457.4,514.1 456.1,514.9 454.8,515.6 453.5,516.3 452.2,517.0 450.8,517.7 449.5,518.4 448.2,519.1 446.9,519.7 445.5,520.4 444.2,521.1 442.8,521.7 441.5,522.4 440.1,523.0 438.8,523.6 437.4,524.2 436.1,524.8 434.7,525.4 433.3,526.0 431.9,526.6 430.6,527.2 429.2,527.8 427.8,528.3 426.4,528.9 425.0,529.4 423.6,530.0 422.2,530.5 420.8,531.0 419.4,531.6 418.0,532.1 416.6,532.6 415.2,533.1 413.7,533.6 412.3,534.1 410.9,534.6 409.5,535.0 408.0,535.5 406.6,536.0 405.2,536.4 403.7,536.9 402.3,537.3 400.8,537.7 399.4,538.2 397.9,538.6 396.5,539.0 395.0,539.4 393.6,539.8 392.1,540.2 390.7,540.6 389.2,541.0 387.7,541.4 386.3,541.8 384.8,542.1 383.3,542.5 381.9,542.9 380.4,543.2 378.9,543.6 377.4,543.9 376.0,544.3 374.5,544.6 373.0,544.9 371.5,545.3 370.0,545.6 368.5,545.9 367.0,546.2 365.6,546.5 364.1,546.8 362.6,547.1 361.1,547.4 359.6,547.7 358.1,548.0 356.6,548.3 355.1,548.5 353.6,548.8 352.1,549.1 350.6,549.3 349.1,549.6 347.6,549.9 346.1,550.1 344.6,550.4 343.1,550.6 341.6,550.8 340.1,551.1 338.6,551.3 337.1,551.5 335.6,551.8 334.1,552.0 332.6,552.2 331.1,552.4 329.5,552.6 328.0,552.9 326.5,553.1 325.0,553.3 323.5,553.5 322.0,553.7 320.5,553.9 319.0,554.1 317.5,554.2 315.9,554.4 314.4,554.6 312.9,554.8 311.4,555.0 309.9,555.1 308.4,555.3 306.9,555.5 305.4,555.7 303.8,555.8 302.3,556.0 300.8,556.2 299.3,556.3 297.8,556.5 296.3,556.6 294.8,556.8 293.2,556.9 291.7,557.1 290.2,557.2 288.7,557.4 287.2,557.5 285.7,557.7 284.1,557.8 282.6,557.9 281.1,558.1 279.6,558.2 278.1,558.3 276.6,558.5 275.1,558.6 273.5,558.7 272.0,558.9 270.5,559.0 269.0,559.1 267.5,559.3 266.0,559.4 264.5,559.5 263.0,559.6 261.4,559.7 259.9,559.9 258.4,560.0 256.9,560.1 255.4,560.2 253.9,560.3 252.4,560.5 250.9,560.6 249.4,560.7 247.9,560.8 246.3,560.9 244.8,561.0 243.3,561.2 241.8,561.3 240.3,561.4 238.8,561.5 237.3,561.6 235.8,561.7 234.3,561.9 232.8,562.0 231.3,562.1 229.8,562.2 228.3,562.3 226.8,562.4 225.3,562.6 223.8,562.7 222.3,562.8 220.8,562.9 219.3,563.0 217.8,563.2 216.3,563.3 214.8,563.4 213.3,563.5 211.9,563.6 210.4,563.8 208.9,563.9 207.4,564.0 205.9,564.2" fill="none" stroke="#ff00ff" stroke-width="2.25" stroke-linejoin="round" stroke-linecap="round"/>
<polyline points="205.9,564.6 207.4,564.6 208.9,564.5 210.4,564.4 211.9,564.3 213.4,564.2 214.9,564.1 216.4,564.0 217.9,563.9 219.4,563.8 220.9,563.7 222.4,563.6 223.9,563.5 225.4,563.4 226.9,563.3 228.4,563.2 229.9,563.1 231.4,563.0 232.9,562.9 234.4,562.8 235.9,562.7 237.4,562.5 238.9,562.4 240.4,562.3 241.9,562.2 243.4,562.1 244.9,562.0 246.4,561.8 247.9,561.7 249.4,561.6 250.9,561.5 252.4,561.3 253.9,561.2 255.4,561.1 256.9,560.9 258.4,560.8 259.9,560.7 261.4,560.5 262.9,560.4 264.4,560.3 265.9,560.1 267.4,560.0 268.9,559.8 270.4,559.7 271.9,559.5 273.4,559.4 274.9,559.2 276.4,559.1 277.9,558.9 279.4,558.8 280.9,558.6 282.4,558.5 283.9,558.3 285.4,558.2 286.9,558.0 288.3,557.8 289.8,557.7 291.3,557.5 292.8,557.3 294.3,557.2 295.8,557.0 297.3,556.8 298.8,556.6 300.3,556.5 301.8,556.3 303.3,556.1 304.8,555.9 306.3,555.8 307.8,555.6 309.3,555.4 310.7,555.2 312.2,555.0 313.7,554.8 315.2,554.6 316.7,554.4 318.2,554.3 319.7,554.1 321.2,553.9 322.7,553.7 324.2,553.5 325.7,553.3 327.1,553.1 328.6,552.9 330.1,552.6 331.6,552.4 333.1,552.2 334.6,552.0 336.1,551.8 337.6,551.6 339.1,551.4 340.5,551.2 342.0,550.9 343.5,550.7 345.0,550.5 346.5,550.3 348.0,550.1 349.5,549.8 351.0,549.6 352.4,549.4 353.9,549.1 355.4,548.9 356.9,548.7 358.4,548.4 359.9,548.2 361.4,548.0 362.8,547.7 364.3,547.5 365.8,547.2 367.3,547.0 368.8,546.7 370.3,546.5 371.7,546.2 373.2,546.0 374.7,545.7 376.2,545.5 377.7,545.2 379.2,545.0 380.6,544.7 382.1,544.4 383.6,544.2 385.1,543.9 386.6,543.6 388.1,543.4 389.5,543.1 391.0,542.8 392.5,542.5 394.0,542.2 395.4,541.9 396.9,541.6 398.4,541.3 399.9,541.0 401.3,540.7 402.8,540.4 404.3,540.1 405.7,539.8 407.2,539.5 408.7,539.1 410.1,538.8 411.6,538.4 413.1,538.1 414.5,537.7 416.0,537.4 417.4,537.0 418.9,536.7 420.4,536.3 421.8,535.9 423.3,535.5 424.7,535.1 426.2,534.7 427.6,534.3 429.0,533.9 430.5,533.5 431.9,533.0 433.4,532.6 434.8,532.2 436.2,531.7 437.6,531.3 439.1,530.8 440.5,530.3 441.9,529.8 443.3,529.4 444.8,528.9 446.2,528.4 447.6,527.9 449.0,527.3 450.4,526.8 451.8,526.3 453.2,525.8 454.6,525.2 456.0,524.7 457.4,524.1 458.8,523.6 460.2,523.0 461.6,522.4 463.0,521.8 464.3,521.2 465.7,520.6 467.1,520.0 468.5,519.4 469.8,518.7 471.2,518.1 472.6,517.5 473.9,516.8 475.3,516.1 476.6,515.5 477.9,514.8 479.3,514.1 480.6,513.4 481.9,512.7 483.3,512.0 484.6,511.2 485.9,510.5 487.2,509.8 488.5,509.0 489.8,508.2 491.1,507.5 492.4,506.7 493.7,505.9 495.0,505.1 496.2,504.3 497.5,503.4 498.8,502.6 500.0,501.8 501.3,500.9 502.5,500.0 503.7,499.2 505.0,498.3 506.2,497.4 507.4,496.5 508.6,495.5 509.8,494.6 511.0,493.7 512.2,492.7 513.3,491.7 514.5,490.8 515.7,489.8 516.8,488.8 517.9,487.8 519.0,486.7 520.1,485.7 521.2,484.6 522.3,483.6 523.3,482.5 524.4,481.4 525.4,480.3 526.4,479.2 527.4,478.0 528.4,476.9 529.3,475.7 530.2,474.6 531.1,473.4 532.0,472.2 532.9,471.0 533.7,469.7 534.5,468.5 535.3,467.2 536.1,465.9 536.8,464.7 537.5,463.3 538.2,462.0 538.9,460.7 539.5,459.3 540.1,458.0 540.7,456.6 541.3,455.2 541.8,453.8 542.3,452.4 542.9,451.0 543.4,449.6 543.9,448.1 544.4,446.7 545.0,445.3 545.5,443.9 546.1,442.5 546.6,441.1 547.2,439.7 547.7,438.3 548.3,436.9 548.8,435.5 549.4,434.1 549.9,432.7 550.5,431.3 551.1,429.9 551.6,428.5 552.2,427.1 552.7,425.7 553.3,424.3 553.8,422.9 554.3,421.5 554.9,420.1 555.4,418.7 555.9,417.3 556.4,415.8 556.9,414.4 557.4,413.0 557.9,411.6 558.4,410.2 558.9,408.7 559.4,407.3 559.9,405.9 560.3,404.5 560.8,403.0 561.2,401.6 561.7,400.2 562.1,398.7 562.6,397.3 563.0,395.9 563.4,394.4 563.8,393.0 564.2,391.5 564.6,390.1 565.0,388.6 565.4,387.2 565.8,385.7 566.2,384.3 566.6,382.8 566.9,381.4 567.3,379.9 567.7,378.5 568.0,377.0 568.4,375.5 568.7,374.1 569.1,372.6 569.4,371.1 569.8,369.7 570.1,368.2 570.5,366.7 570.8,365.3 571.1,363.8 571.4,362.3 571.8,360.9 572.1,359.4 572.4,357.9 572.7,356.5 573.0,355.0 573.4,353.5 573.7,352.0 574.0,350.6 574.3,349.1 574.6,347.6 574.9,346.1 575.2,344.7 575.5,343.2 575.8,341.7 576.2,340.2 576.5,338.7 576.8,337.3 577.1,335.8 577.4,334.3 577.7,332.8 578.0,331.4 578.3,329.9 578.6,328.4 579.0,326.9 579.3,325.5 579.6,324.0 580.0,322.5 580.3,321.1 580.7,319.6 581.0,318.1 581.4,316.7 581.8,315.2 582.2,313.8 582.6,312.4 583.1,310.9 583.5,309.5 584.0,308.1 584.5,306.7 585.0,305.3 585.5,303.9 586.0,302.5 586.6,301.1 587.2,299.8 587.8,298.4 588.4,297.0 589.0,295.7 589.7,294.3 590.3,293.0 591.0,291.7 591.7,290.3 592.4,289.0 593.0,287.7 593.7,286.3 594.4,285.0 595.1,283.6 595.8,282.3 596.5,281.0 597.1,279.6 597.8,278.3 598.4,276.9 599.1,275.5 599.7,274.2 600.3,272.8 600.9,271.4 601.4,270.0 602.0,268.6 602.6,267.2 603.2,265.8 603.7,264.4 604.3,263.0 604.9,261.6 605.5,260.3 606.1,258.9 606.7,257.5 607.4,256.2 608.0,254.9 608.7,253.6 609.4,252.3 610.2,251.0 611.0,249.8 611.8,248.5 612.7,247.3 613.6,246.1 614.5,245.0 615.4,243.8 616.4,242.7 617.4,241.5 618.4,240.4 619.4,239.3 620.5,238.3 621.5,237.2 622.6,236.2 623.7,235.1 624.9,234.1 626.0,233.1 627.1,232.1 628.3,231.1 629.4,230.1 630.6,229.1 631.8,228.2 632.9,227.2 634.1,226.2 635.3,225.3 636.5,224.3 637.7,223.4 638.9,222.4 640.1,221.5 641.3,220.5 642.5,219.6 643.7,218.7 644.9,217.8 646.1,216.9 647.4,216.0 648.6,215.2 649.9,214.3 651.1,213.5 652.4,212.7 653.6,211.9 654.9,211.1 656.2,210.3 657.5,209.5 658.7,208.7 660.0,207.9 661.3,207.2 662.6,206.5 663.9,205.7 665.2,205.0 666.6,204.3 667.9,203.6 669.2,202.9 670.5,202.2 671.9,201.6 673.2,200.9 674.6,200.2 675.9,199.6 677.3,199.0 678.6,198.4 680.0,197.7 681.3,197.1 682.7,196.5 684.1,196.0 685.5,195.4 686.9,194.8 688.2,194.2 689.6,193.7 691.0,193.2 692.4,192.6 693.8,192.1 695.2,191.6 696.6,191.1 698.0,190.6 699.5,190.1 700.9,189.6 702.3,189.1 703.7,188.6 705.2,188.2 706.6,187.7 708.0,187.2 709.5,186.8 710.9,186.4 712.3,185.9 713.8,185.5 715.2,185.1 716.7,184.7 718.1,184.3 719.6,183.9 721.0,183.5 722.5,183.1 724.0,182.7 725.4,182.3 726.9,182.0 728.4,181.6 729.8,181.3 731.3,180.9 732.8,180.6 734.2,180.2 735.7,179.9 737.2,179.6 738.7,179.2 740.2,178.9 741.6,178.6 743.1,178.3 744.6,178.0 746.1,177.7 747.6,177.4 749.1,177.1 750.5,176.8 752.0,176.5 753.5,176.3 755.0,176.0 756.5,175.7 758.0,175.4 759.5,175.2 761.0,174.9 762.5,174.7 764.0,174.4 765.5,174.2 767.0,173.9 768.5,173.7 769.9,173.4 771.4,173.2 772.9,172.9 774.4,172.7 775.9,172.5 777.4,172.3 778.9,172.0 780.4,171.8 781.9,171.6 783.4,171.4 784.9,171.2 786.4,171.0 787.9,170.8 789.4,170.6 790.9,170.4 792.4,170.2 793.9,170.0 795.4,169.8 796.9,169.6 798.4,169.4 799.9,169.2 801.4,169.0 802.9,168.9 804.4,168.7 805.9,168.5 807.4,168.3 808.9,168.2 810.4,168.0 811.9,167.8 813.4,167.7 814.9,167.5 816.4,167.3 817.9,167.2 819.4,167.0 820.9,166.9 822.4,166.7 823.9,166.6 825.4,166.4 826.9,166.3 828.4,166.1 829.9,166.0 831.4,165.8 832.9,165.7 834.4,165.6 835.9,165.4 837.4,165.3 838.9,165.2 840.4,165.0 841.9,164.9 843.4,164.8 844.9,164.6 846.4,164.5 847.9,164.4 849.4,164.3 850.9,164.1 852.4,164.0 853.9,163.9 855.4,163.8 856.9,163.7 858.4,163.6 859.9,163.4 861.4,163.3 862.9,163.2 864.4,163.1 865.9,163.0 867.4,162.9 868.9,162.8 870.4,162.7 871.9,162.6 873.4,162.5 874.9,162.4 876.4,162.3 877.9,162.1 879.4,162.0 880.9,161.9 882.4,161.8 883.9,161.7 885.4,161.6 886.9,161.5 888.5,161.4 890.0,161.3 891.5,161.2 893.0,161.1 894.5,161.1 896.0,161.0 897.5,160.9 899.0,160.8 900.5,160.7 902.0,160.6 903.5,160.5 905.0,160.4 906.5,160.3 908.0,160.2 909.5,160.1 911.0,160.0 912.5,159.9" fill="none" stroke="#ff00ff" stroke-width="2.25" stroke-linejoin="round" stroke-linecap="round"/>
<polyline points="912.5,187.7 911.0,187.8 909.5,187.8 908.0,187.9 906.5,188.0 905.0,188.0 903.5,188.1 902.0,188.2 900.4,188.3 898.9,188.3 897.4,188.4 895.9,188.5 894.4,188.6 892.9,188.7 891.4,188.8 889.9,188.8 888.4,188.9 886.9,189.0 885.4,189.1 883.9,189.2 882.4,189.3 880.9,189.4 879.3,189.5 877.8,189.6 876.3,189.7 874.8,189.8 873.3,189.9 871.8,190.0 870.3,190.1 868.8,190.2 867.3,190.3 865.8,190.4 864.3,190.6 862.8,190.7 861.3,190.8 859.8,190.9 858.2,191.0 856.7,191.2 855.2,191.3 853.7,191.4 852.2,191.5 850.7,191.7 849.2,191.8 847.7,191.9 846.2,192.1 844.7,192.2 843.2,192.3 841.7,192.5 840.2,192.6 838.7,192.8 837.2,192.9 835.7,193.1 834.2,193.2 832.7,193.4 831.1,193.5 829.6,193.7 828.1,193.8 826.6,194.0 825.1,194.2 823.6,194.3 822.1,194.5 820.6,194.7 819.1,194.8 817.6,195.0 816.1,195.2 814.6,195.3 813.1,195.5 811.6,195.7 810.1,195.9 808.6,196.1 807.1,196.3 805.6,196.5 804.1,196.6 802.6,196.8 801.1,197.0 799.6,197.2 798.1,197.4 796.6,197.6 795.1,197.8 793.6,198.0 792.1,198.3 790.6,198.5 789.1,198.7 787.6,198.9 786.1,199.1 784.6,199.3 783.2,199.6 781.7,199.8 780.2,200.0 778.7,200.2 777.2,200.5 775.7,200.7 774.2,200.9 772.7,201.2 771.2,201.4 769.7,201.7 768.2,201.9 766.7,202.2 765.3,202.4 763.8,202.7 762.3,202.9 760.8,203.2 759.3,203.5 757.8,203.7 756.3,204.0 754.8,204.3 753.4,204.5 751.9,204.8 750.4,205.1 748.9,205.4 747.4,205.6 745.9,205.9 744.5,206.2 743.0,206.5 741.5,206.8 740.0,207.1 738.5,207.4 737.1,207.7 735.6,208.0 734.1,208.3 732.6,208.6 731.2,208.9 729.7,209.2 728.2,209.6 726.7,209.9 725.3,210.2 723.8,210.5 722.3,210.8 720.8,211.2 719.4,211.5 717.9,211.8 716.4,212.2 715.0,212.5 713.5,212.9 712.0,213.2 710.6,213.6 709.1,213.9 707.6,214.3 706.2,214.6 704.7,215.0 703.2,215.4 701.8,215.7 700.3,216.1 698.9,216.5 697.4,216.9 695.9,217.3 694.5,217.7 693.0,218.0 691.6,218.4 690.1,218.8 688.7,219.2 687.2,219.7 685.7,220.1 684.3,220.5 682.8,220.9 681.4,221.3 679.9,221.7 678.5,222.2 677.1,222.6 675.6,223.0 674.2,223.5 672.7,223.9 671.3,224.4 669.8,224.8 668.4,225.3 667.0,225.8 665.5,226.2 664.1,226.7 662.6,227.2 661.2,227.7 659.8,228.2 658.3,228.7 656.9,229.2 655.5,229.7 654.1,230.2 652.6,230.7 651.2,231.2 649.8,231.7 648.3,232.2 646.9,232.8 645.5,233.3 644.1,233.9 642.7,234.4 641.3,235.0 639.9,235.5 638.4,236.1 637.0,236.7 635.6,237.3 634.3,237.9 632.9,238.5 631.5,239.1 630.1,239.7 628.7,240.3 627.3,241.0 626.0,241.6 624.6,242.3 623.3,242.9 621.9,243.6 620.6,244.3 619.2,245.0 617.9,245.7 616.6,246.4 615.2,247.1 613.9,247.8 612.6,248.6 611.3,249.3 610.0,250.1 608.7,250.9 607.4,251.7 606.2,252.5 604.9,253.3 603.7,254.1 602.4,254.9 601.2,255.8 600.0,256.7 598.7,257.5 597.5,258.4 596.3,259.3 595.2,260.3 594.0,261.2 592.8,262.2 591.7,263.1 590.5,264.1 589.4,265.1 588.3,266.1 587.2,267.2 586.1,268.2 585.0,269.3 583.9,270.4 582.9,271.5 582.2,272.9 581.5,274.2 580.8,275.6 580.1,276.9 579.4,278.3 578.7,279.7 578.1,281.0 577.4,282.4 576.8,283.8 576.1,285.2 575.5,286.5 574.9,287.9 574.3,289.3 573.7,290.7 573.1,292.1 572.5,293.5 571.9,294.9 571.3,296.3 570.7,297.7 570.2,299.1 569.6,300.5 569.1,301.9 568.5,303.3 568.0,304.8 567.4,306.2 566.9,307.6 566.4,309.0 565.9,310.5 565.4,311.9 564.8,313.3 564.3,314.7 563.9,316.2 563.4,317.6 562.9,319.1 562.4,320.5 561.9,321.9 561.4,323.4 561.0,324.8 560.5,326.3 560.1,327.7 559.6,329.2 559.2,330.6 558.7,332.1 558.3,333.5 557.8,335.0 557.4,336.4 557.0,337.9 556.5,339.3 556.1,340.8 555.7,342.3 555.3,343.7 554.8,345.2 554.4,346.6 554.0,348.1 553.6,349.6 553.2,351.0 552.8,352.5 552.4,354.0 552.0,355.4 551.6,356.9 551.2,358.4 550.8,359.8 550.4,361.3 550.0,362.8 549.6,364.2 549.2,365.7 548.8,367.2 548.4,368.6 548.0,370.1 547.6,371.6 547.2,373.0 546.8,374.5 546.4,376.0 546.0,377.4 545.6,378.9 545.2,380.4 544.8,381.8 544.4,383.3 544.0,384.8 543.6,386.2 543.2,387.7 542.8,389.1 542.4,390.6 542.0,392.1 541.6,393.5 541.2,395.0 540.8,396.4 540.3,397.9 539.9,399.4 539.5,400.8 539.1,402.3 538.7,403.7 538.2,405.2 537.8,406.6 537.3,408.0 536.9,409.5 536.4,410.9 535.9,412.3 535.4,413.7 534.8,415.1 534.3,416.5 533.7,417.9 533.1,419.3 532.5,420.7 531.9,422.0 531.2,423.3 530.5,424.7 529.7,426.0 528.9,427.3 528.1,428.6 527.3,429.8 526.4,431.1 525.5,432.3 524.6,433.6 523.6,434.8 522.7,436.0 521.7,437.2 520.8,438.5 519.9,439.7 519.0,441.0 518.1,442.2 517.3,443.5 516.5,444.8 515.7,446.1 515.0,447.4 514.3,448.8 513.6,450.1 513.0,451.5 512.3,452.9 511.7,454.3 511.2,455.7 510.6,457.1 509.5,458.1 508.3,459.2 507.2,460.2 506.0,461.2 504.9,462.2 503.7,463.1 502.5,464.1 501.3,465.1 500.1,466.0 499.0,466.9 497.7,467.8 496.5,468.8 495.3,469.7 494.1,470.5 492.9,471.4 491.6,472.3 490.4,473.1 489.1,474.0 487.9,474.8 486.6,475.6 485.4,476.4 484.1,477.2 482.8,478.0 481.5,478.8 480.2,479.6 479.0,480.3 477.7,481.1 476.4,481.8 475.0,482.6 473.7,483.3 472.4,484.0 471.1,484.7 469.8,485.4 468.4,486.1 467.1,486.8 465.7,487.4 464.4,488.1 463.0,488.7 461.7,489.4 460.3,490.0 459.0,490.6 457.6,491.3 456.2,491.9 454.8,492.5 453.5,493.1 452.1,493.7 450.7,494.2 449.3,494.8 447.9,495.4 446.5,495.9 445.1,496.5 443.7,497.0 442.3,497.5 440.9,498.1 439.5,498.6 438.0,499.1 436.6,499.6 435.2,500.1 433.8,500.6 432.3,501.1 430.9,501.6 429.5,502.0 428.0,502.5 426.6,503.0 425.2,503.4 423.7,503.9 422.3,504.3 420.8,504.7 419.4,505.2 417.9,505.6 416.5,506.0 415.0,506.4 413.6,506.8 412.1,507.3 410.7,507.7 409.2,508.0 407.8,508.4 406.3,508.8 404.8,509.2 403.4,509.6 401.9,509.9 400.4,510.3 399.0,510.7 397.5,511.0 396.0,511.4 394.5,511.7 393.1,512.1 391.6,512.4 390.1,512.7 388.6,513.0 387.2,513.4 385.7,513.7 384.2,514.0 382.7,514.3 381.2,514.6 379.8,514.9 378.3,515.2 376.8,515.5 375.3,515.8 373.8,516.0 372.3,516.3 370.9,516.6 369.4,516.9 367.9,517.1 366.4,517.4 364.9,517.7 363.4,517.9 361.9,518.2 360.4,518.4 358.9,518.6 357.4,518.9 356.0,519.1 354.5,519.3 353.0,519.6 351.5,519.8 350.0,520.0 348.5,520.2 347.0,520.4 345.5,520.7 344.0,520.9 342.5,521.1 341.0,521.3 339.5,521.5 338.0,521.7 336.5,521.9 335.0,522.0 333.5,522.2 332.0,522.4 330.5,522.6 329.0,522.8 327.5,522.9 326.0,523.1 324.5,523.3 323.0,523.5 321.5,523.6 320.1,523.8 318.6,523.9 317.1,524.1 315.6,524.3 314.1,524.4 312.6,524.6 311.1,524.7 309.6,524.9 308.1,525.0 306.6,525.2 305.1,525.3 303.6,525.4 302.1,525.6 300.6,525.7 299.1,525.9 297.6,526.0 296.1,526.1 294.6,526.3 293.1,526.4 291.5,526.5 290.0,526.7 288.5,526.8 287.0,526.9 285.5,527.0 284.0,527.2 282.5,527.3 281.0,527.4 279.5,527.5 278.0,527.7 276.5,527.8 275.0,527.9 273.5,528.0 272.0,528.1 270.5,528.3 269.0,528.4 267.5,528.5 266.0,528.6 264.5,528.7 263.0,528.9 261.5,529.0 260.0,529.1 258.5,529.2 257.0,529.3 255.5,529.5 254.0,529.6 252.5,529.7 251.0,529.8 249.5,530.0 248.0,530.1 246.5,530.2 245.0,530.3 243.5,530.5 242.0,530.6 240.5,530.7 239.0,530.8 237.5,531.0 235.9,531.1 234.4,531.2 232.9,531.4 231.4,531.5 229.9,531.6 228.4,531.8 226.9,531.9 225.4,532.0 223.9,532.2 222.4,532.3 220.9,532.5 219.4,532.6 217.9,532.8 216.4,532.9 214.9,533.1 213.4,533.2 211.9,533.4 210.4,533.5 208.9,533.7 207.4,533.8 205.9,534.0" fill="none" stroke="#808000" stroke-width="2.25" stroke-linejoin="round" stroke-linecap="round"/>
<polyline points="205.9,534.0 207.4,533.8 208.9,533.7 210.4,533.5 211.9,533.3 213.4,533.2 214.9,533.0 216.4,532.9 217.9,532.7 219.4,532.6 220.9,532.4 222.4,532.3 223.9,532.1 225.4,532.0 226.9,531.8 228.4,531.7 229.9,531.5 231.4,531.4 232.9,531.3 234.4,531.1 235.9,531.0 237.4,530.9 238.9,530.7 240.4,530.6 241.9,530.5 243.4,530.4 244.9,530.2 246.4,530.1 247.9,530.0 249.4,529.9 250.9,529.7 252.4,529.6 253.9,529.5 255.4,529.4 256.9,529.3 258.4,529.1 259.9,529.0 261.4,528.9 262.9,528.8 264.4,528.7 265.9,528.5 267.4,528.4 268.9,528.3 270.4,528.2 271.9,528.1 273.4,527.9 274.9,527.8 276.4,527.7 277.9,527.6 279.4,527.5 280.9,527.3 282.4,527.2 283.9,527.1 285.5,527.0 287.0,526.9 288.5,526.7 290.0,526.6 291.5,526.5 293.0,526.4 294.5,526.2 296.0,526.1 297.5,526.0 299.0,525.9 300.5,525.7 302.0,525.6 303.5,525.5 305.0,525.3 306.5,525.2 308.0,525.0 309.5,524.9 311.0,524.8 312.5,524.6 314.0,524.5 315.5,524.3 317.0,524.2 318.5,524.0 320.0,523.9 321.5,523.7 323.0,523.6 324.4,523.4 325.9,523.3 327.4,523.1 328.9,522.9 330.4,522.8 331.9,522.6 333.4,522.4 334.9,522.2 336.4,522.1 337.9,521.9 339.4,521.7 340.9,521.5 342.4,521.3 343.9,521.1 345.4,520.9 346.9,520.7 348.4,520.5 349.9,520.3 351.4,520.1 352.9,519.9 354.4,519.7 355.8,519.5 357.3,519.3 358.8,519.0 360.3,518.8 361.8,518.6 363.3,518.4 364.8,518.1 366.3,517.9 367.8,517.7 369.3,517.4 370.7,517.2 372.2,516.9 373.7,516.7 375.2,516.5 376.7,516.2 378.2,516.0 379.7,515.7 381.2,515.5 382.7,515.3 384.2,515.0 385.7,514.8 387.1,514.6 388.6,514.3 390.1,514.1 391.6,513.9 393.1,513.6 394.6,513.4 396.1,513.2 397.6,513.0 399.1,512.8 400.6,512.5 402.1,512.3 403.6,512.1 405.0,511.9 406.5,511.6 408.0,511.4 409.5,511.2 411.0,510.9 412.5,510.7 414.0,510.4 415.4,510.2 416.9,509.9 418.4,509.6 419.9,509.3 421.3,508.9 422.8,508.6 424.2,508.2 425.7,507.9 427.1,507.5 428.6,507.1 430.0,506.7 431.5,506.3 432.9,505.9 434.4,505.4 435.8,505.0 437.2,504.5 438.7,504.1 440.1,503.6 441.5,503.1 442.9,502.7 444.4,502.2 445.8,501.7 447.2,501.2 448.6,500.7 450.0,500.2 451.5,499.7 452.9,499.2 454.3,498.6 455.7,498.1 457.1,497.6 458.5,497.1 459.9,496.6 461.3,496.1 462.8,495.5 464.2,495.0 465.6,494.5 467.0,494.0 468.4,493.4 469.8,492.9 471.2,492.4 472.6,491.8 474.0,491.3 475.4,490.7 476.8,490.2 478.2,489.6 479.6,489.1 481.0,488.5 482.5,487.9 483.9,487.3 485.3,486.7 486.7,486.1 488.1,485.5 489.5,484.9 490.9,484.3 492.3,483.6 493.7,483.0 495.0,482.3 496.4,481.7 497.8,481.0 499.2,480.3 500.5,479.6 501.9,478.9 503.2,478.1 504.5,477.4 505.9,476.7 507.2,475.9 508.5,475.1 509.8,474.3 511.1,473.5 512.3,472.7 513.6,471.9 514.8,471.0 516.0,470.2 517.2,469.3 518.4,468.4 519.6,467.5 520.8,466.5 521.9,465.6 523.0,464.6 524.1,463.6 525.2,462.6 526.3,461.6 527.3,460.6 528.3,459.5 529.3,458.4 530.3,457.3 531.3,456.2 532.2,455.1 533.1,453.9 534.0,452.7 534.8,451.5 535.7,450.3 536.5,449.1 537.2,447.8 538.0,446.5 538.7,445.2 539.4,443.9 540.1,442.6 540.8,441.2 541.5,439.9 542.1,438.5 542.7,437.1 543.4,435.7 544.0,434.3 544.6,432.9 545.1,431.5 545.7,430.1 546.3,428.6 546.8,427.2 547.4,425.8 547.9,424.3 548.5,422.9 549.0,421.5 549.5,420.0 550.1,418.6 550.6,417.2 551.1,415.8 551.6,414.3 552.2,412.9 552.7,411.5 553.2,410.1 553.7,408.7 554.3,407.2 554.8,405.8 555.3,404.4 555.8,403.0 556.3,401.6 556.8,400.1 557.3,398.7 557.8,397.3 558.3,395.9 558.7,394.5 559.2,393.0 559.7,391.6 560.1,390.2 560.6,388.7 561.0,387.3 561.5,385.9 561.9,384.4 562.4,383.0 562.8,381.6 563.2,380.1 563.7,378.7 564.1,377.2 564.5,375.8 564.9,374.3 565.3,372.9 565.8,371.5 566.2,370.0 566.6,368.6 567.0,367.1 567.4,365.7 567.8,364.2 568.2,362.8 568.6,361.3 569.0,359.9 569.4,358.4 569.8,357.0 570.2,355.5 570.6,354.1 571.0,352.6 571.4,351.1 571.8,349.7 572.1,348.2 572.5,346.8 572.9,345.3 573.3,343.9 573.7,342.4 574.1,341.0 574.5,339.5 574.9,338.1 575.3,336.6 575.7,335.2 576.1,333.7 576.5,332.3 576.9,330.8 577.3,329.4 577.7,327.9 578.1,326.5 578.6,325.0 579.0,323.6 579.4,322.1 579.8,320.7 580.2,319.2 580.7,317.8 581.1,316.3 581.5,314.9 582.0,313.4 582.4,312.0 582.9,310.6 583.3,309.1 583.8,307.7 584.2,306.2 584.7,304.8 585.1,303.4 585.6,301.9 586.1,300.5 587.0,299.2 587.8,297.8 588.7,296.5 589.6,295.2 590.5,293.9 591.5,292.6 592.4,291.3 593.3,290.0 594.3,288.7 595.2,287.4 596.2,286.1 597.1,284.8 598.0,283.5 599.0,282.2 599.9,280.9 600.8,279.6 601.7,278.3 602.6,276.9 603.5,275.6 604.3,274.3 605.1,272.9 606.0,271.5 606.7,270.1 607.5,268.7 608.2,267.3 608.9,265.9 609.6,264.4 610.7,263.3 611.8,262.2 613.0,261.1 614.1,260.1 615.3,259.0 616.4,258.0 617.6,257.0 618.7,256.0 619.9,255.0 621.1,254.0 622.3,253.1 623.5,252.1 624.7,251.2 625.9,250.2 627.1,249.3 628.3,248.4 629.6,247.6 630.8,246.7 632.0,245.8 633.3,245.0 634.5,244.2 635.8,243.3 637.1,242.5 638.3,241.7 639.6,240.9 640.9,240.2 642.2,239.4 643.5,238.7 644.8,237.9 646.1,237.2 647.4,236.5 648.7,235.8 650.0,235.1 651.3,234.4 652.7,233.7 654.0,233.1 655.3,232.4 656.7,231.8 658.0,231.2 659.4,230.5 660.7,229.9 662.1,229.3 663.5,228.7 664.9,228.2 666.2,227.6 667.6,227.0 669.0,226.5 670.4,225.9 671.8,225.4 673.2,224.9 674.6,224.4 676.0,223.8 677.4,223.4 678.8,222.9 680.2,222.4 681.7,221.9 683.1,221.4 684.5,221.0 685.9,220.5 687.4,220.1 688.8,219.7 690.2,219.2 691.7,218.8 693.1,218.4 694.6,218.0 696.0,217.6 697.5,217.2 699.0,216.8 700.4,216.5 701.9,216.1 703.4,215.7 704.8,215.4 706.3,215.0 707.8,214.7 709.2,214.3 710.7,214.0 712.2,213.7 713.7,213.4 715.2,213.1 716.7,212.7 718.1,212.4 719.6,212.1 721.1,211.8 722.6,211.6 724.1,211.3 725.6,211.0 727.1,210.7 728.6,210.5 730.1,210.2 731.6,209.9 733.1,209.7 734.6,209.4 736.1,209.2 737.6,208.9 739.1,208.7 740.6,208.4 742.1,208.2 743.6,208.0 745.1,207.8 746.7,207.5 748.2,207.3 749.7,207.1 751.2,206.9 752.7,206.7 754.2,206.4 755.7,206.2 757.2,206.0 758.7,205.8 760.2,205.6 761.8,205.4 763.3,205.2 764.8,205.0 766.3,204.8 767.8,204.7 769.3,204.5 770.8,204.3 772.3,204.1 773.8,203.9 775.3,203.7 776.8,203.5 778.4,203.4 779.9,203.2 781.4,203.0 782.9,202.8 784.4,202.7 785.9,202.5 787.4,202.3 788.9,202.2 790.4,202.0 791.9,201.8 793.4,201.7 794.9,201.5 796.4,201.4 797.9,201.2 799.4,201.1 801.0,200.9 802.5,200.8 804.0,200.6 805.5,200.5 807.0,200.3 808.5,200.2 810.0,200.0 811.5,199.9 813.0,199.8 814.5,199.6 816.0,199.5 817.5,199.3 819.0,199.2 820.5,199.1 822.0,199.0 823.5,198.8 825.0,198.7 826.6,198.6 828.1,198.5 829.6,198.3 831.1,198.2 832.6,198.1 834.1,198.0 835.6,197.9 837.1,197.7 838.6,197.6 840.1,197.5 841.6,197.4 843.1,197.3 844.6,197.2 846.1,197.1 847.6,197.0 849.1,196.9 850.6,196.8 852.1,196.7 853.7,196.6 855.2,196.5 856.7,196.4 858.2,196.3 859.7,196.2 861.2,196.1 862.7,196.0 864.2,195.9 865.7,195.8 867.2,195.7 868.7,195.6 870.2,195.5 871.7,195.4 873.2,195.3 874.8,195.3 876.3,195.2 877.8,195.1 879.3,195.0 880.8,194.9 882.3,194.8 883.8,194.8 885.3,194.7 886.8,194.6 888.3,194.5 889.8,194.4 891.3,194.4 892.9,194.3 894.4,194.2 895.9,194.2 897.4,194.1 898.9,194.0 900.4,193.9 901.9,193.9 903.4,193.8 904.9,193.7 906.5,193.7 908.0,193.6 909.5,193.5 911.0,193.5 912.5,193.4" fill="none" stroke="#808000" stroke-width="2.25" stroke-linejoin="round" stroke-linecap="round"/>
<rect x="102.4" y="12.6" width="913.1" height="697.8" fill="none" stroke="#1a1a1a" stroke-width="2.6"/>
<path d="M90.4 12.6H102.4 M90.4 82.9H102.4 M90.4 152.6H102.4 M90.4 222.0H102.4 M90.4 292.0H102.4 M90.4 362.0H102.4 M90.4 429.8H102.4 M90.4 499.6H102.4 M90.4 570.3H102.4 M90.4 640.3H102.4 M90.4 710.4H102.4 M96.4 675.3H102.4 M96.4 605.3H102.4 M96.4 535.0H102.4 M96.4 464.7H102.4 M96.4 395.9H102.4 M96.4 327.0H102.4 M96.4 257.0H102.4 M96.4 187.3H102.4 M96.4 117.8H102.4 M96.4 47.8H102.4 M194.2 710.4V722.4 M376.6 710.4V722.4 M558.5 710.4V722.4 M741.5 710.4V722.4 M924.2 710.4V722.4 M285.4 710.4V716.4 M467.6 710.4V716.4 M650.0 710.4V716.4 M832.9 710.4V716.4 M102.4 710.4V716.4 M1015.5 710.4V716.4" stroke="#1a1a1a" stroke-width="2.4" fill="none"/>
<text transform="translate(82.0,19.1) scale(0.955,1)" class="t" text-anchor="end">50</text>
<text transform="translate(82.0,89.4) scale(0.955,1)" class="t" text-anchor="end">40</text>
<text transform="translate(82.0,159.1) scale(0.955,1)" class="t" text-anchor="end">30</text>
<text transform="translate(82.0,228.5) scale(0.955,1)" class="t" text-anchor="end">20</text>
<text transform="translate(82.0,298.5) scale(0.955,1)" class="t" text-anchor="end">10</text>
<text transform="translate(82.0,368.5) scale(0.955,1)" class="t" text-anchor="end">0</text>
<text transform="translate(82.0,436.3) scale(0.955,1)" class="t" text-anchor="end">-10</text>
<text transform="translate(82.0,506.1) scale(0.955,1)" class="t" text-anchor="end">-20</text>
<text transform="translate(82.0,576.8) scale(0.955,1)" class="t" text-anchor="end">-30</text>
<text transform="translate(82.0,646.8) scale(0.955,1)" class="t" text-anchor="end">-40</text>
<text transform="translate(82.0,716.9) scale(0.955,1)" class="t" text-anchor="end">-50</text>
<text x="194.2" y="749.7" class="t" text-anchor="middle">-10000</text>
<text x="376.6" y="749.7" class="t" text-anchor="middle">-5000</text>
<text x="558.5" y="749.7" class="t" text-anchor="middle">0</text>
<text x="741.5" y="749.7" class="t" text-anchor="middle">5000</text>
<text x="924.2" y="749.7" class="t" text-anchor="middle">10000</text>
<text x="558.7" y="791.6" class="ti" text-anchor="middle">Magnetic Field (G)</text>
<text transform="translate(27.1,367.2) rotate(-90) scale(1,1.08)" class="ti2" text-anchor="middle">Magnetization(emu/g)</text>
<rect x="156.7" y="44.7" width="173.6" height="212.8" fill="#fff" stroke="#7a7a7a" stroke-width="2.2" stroke-linejoin="round"/>
<line x1="166.3" y1="65.0" x2="230.0" y2="65.0" stroke="#000000" stroke-width="2.4" stroke-linecap="round"/>
<text transform="translate(238.6,75.2) scale(1,1.05)" class="lg">x=0.00</text>
<line x1="166.3" y1="100.4" x2="230.0" y2="100.4" stroke="#ff0000" stroke-width="2.4" stroke-linecap="round"/>
<text transform="translate(238.6,110.6) scale(1,1.05)" class="lg">x=0.03</text>
<line x1="166.3" y1="135.7" x2="230.0" y2="135.7" stroke="#0000ff" stroke-width="2.4" stroke-linecap="round"/>
<text transform="translate(238.6,145.9) scale(1,1.05)" class="lg">x=0.06</text>
<line x1="166.3" y1="171.1" x2="230.0" y2="171.1" stroke="#008080" stroke-width="2.4" stroke-linecap="round"/>
<text transform="translate(238.6,181.3) scale(1,1.05)" class="lg">x=0.09</text>
<line x1="166.3" y1="206.4" x2="230.0" y2="206.4" stroke="#ff00ff" stroke-width="2.4" stroke-linecap="round"/>
<text transform="translate(238.6,216.6) scale(1,1.05)" class="lg">x=0.12</text>
<line x1="166.3" y1="241.8" x2="230.0" y2="241.8" stroke="#808000" stroke-width="2.4" stroke-linecap="round"/>
<text transform="translate(238.6,252.0) scale(1,1.05)" class="lg">x=0.15</text>
</svg>
</body></html>
